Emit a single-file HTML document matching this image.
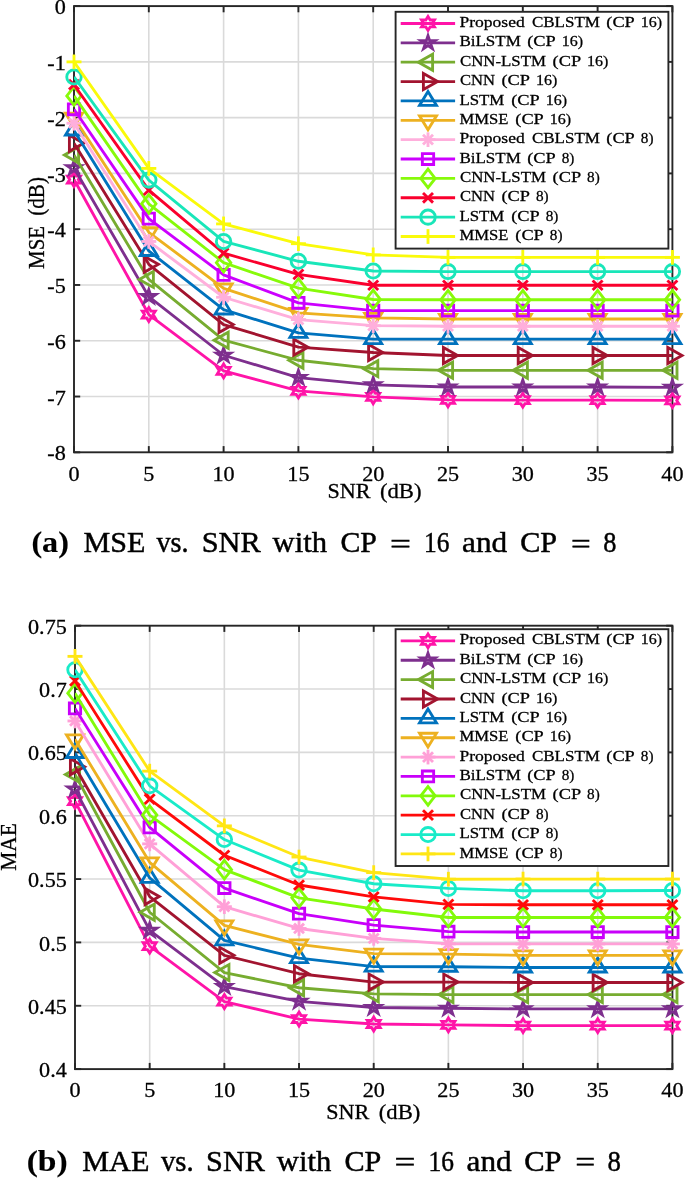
<!DOCTYPE html>
<html><head><meta charset="utf-8"><title>MSE and MAE vs. SNR</title>
<style>html,body{margin:0;padding:0;background:#fff}svg{display:block}text{font-family:"Liberation Serif",serif;fill:#000}</style></head>
<body>
<svg width="685" height="1179" viewBox="0 0 685 1179">
<rect width="685" height="1179" fill="#fff"/>
<clipPath id="clip1"><rect x="74.0" y="6.1" width="598.4" height="446.2"/></clipPath>
<line x1="148.80" y1="6.1" x2="148.80" y2="452.3" stroke="#dadada" stroke-width="1.6"/>
<line x1="223.60" y1="6.1" x2="223.60" y2="452.3" stroke="#dadada" stroke-width="1.6"/>
<line x1="298.40" y1="6.1" x2="298.40" y2="452.3" stroke="#dadada" stroke-width="1.6"/>
<line x1="373.20" y1="6.1" x2="373.20" y2="452.3" stroke="#dadada" stroke-width="1.6"/>
<line x1="448.00" y1="6.1" x2="448.00" y2="452.3" stroke="#dadada" stroke-width="1.6"/>
<line x1="522.80" y1="6.1" x2="522.80" y2="452.3" stroke="#dadada" stroke-width="1.6"/>
<line x1="597.60" y1="6.1" x2="597.60" y2="452.3" stroke="#dadada" stroke-width="1.6"/>
<line x1="74.0" y1="396.53" x2="672.4" y2="396.53" stroke="#dadada" stroke-width="1.6"/>
<line x1="74.0" y1="340.75" x2="672.4" y2="340.75" stroke="#dadada" stroke-width="1.6"/>
<line x1="74.0" y1="284.98" x2="672.4" y2="284.98" stroke="#dadada" stroke-width="1.6"/>
<line x1="74.0" y1="229.20" x2="672.4" y2="229.20" stroke="#dadada" stroke-width="1.6"/>
<line x1="74.0" y1="173.42" x2="672.4" y2="173.42" stroke="#dadada" stroke-width="1.6"/>
<line x1="74.0" y1="117.65" x2="672.4" y2="117.65" stroke="#dadada" stroke-width="1.6"/>
<line x1="74.0" y1="61.88" x2="672.4" y2="61.88" stroke="#dadada" stroke-width="1.6"/>
<line x1="74.00" y1="452.3" x2="74.00" y2="446.1" stroke="#262626" stroke-width="1.9"/>
<line x1="74.00" y1="6.1" x2="74.00" y2="12.3" stroke="#262626" stroke-width="1.9"/>
<line x1="148.80" y1="452.3" x2="148.80" y2="446.1" stroke="#262626" stroke-width="1.9"/>
<line x1="148.80" y1="6.1" x2="148.80" y2="12.3" stroke="#262626" stroke-width="1.9"/>
<line x1="223.60" y1="452.3" x2="223.60" y2="446.1" stroke="#262626" stroke-width="1.9"/>
<line x1="223.60" y1="6.1" x2="223.60" y2="12.3" stroke="#262626" stroke-width="1.9"/>
<line x1="298.40" y1="452.3" x2="298.40" y2="446.1" stroke="#262626" stroke-width="1.9"/>
<line x1="298.40" y1="6.1" x2="298.40" y2="12.3" stroke="#262626" stroke-width="1.9"/>
<line x1="373.20" y1="452.3" x2="373.20" y2="446.1" stroke="#262626" stroke-width="1.9"/>
<line x1="373.20" y1="6.1" x2="373.20" y2="12.3" stroke="#262626" stroke-width="1.9"/>
<line x1="448.00" y1="452.3" x2="448.00" y2="446.1" stroke="#262626" stroke-width="1.9"/>
<line x1="448.00" y1="6.1" x2="448.00" y2="12.3" stroke="#262626" stroke-width="1.9"/>
<line x1="522.80" y1="452.3" x2="522.80" y2="446.1" stroke="#262626" stroke-width="1.9"/>
<line x1="522.80" y1="6.1" x2="522.80" y2="12.3" stroke="#262626" stroke-width="1.9"/>
<line x1="597.60" y1="452.3" x2="597.60" y2="446.1" stroke="#262626" stroke-width="1.9"/>
<line x1="597.60" y1="6.1" x2="597.60" y2="12.3" stroke="#262626" stroke-width="1.9"/>
<line x1="672.40" y1="452.3" x2="672.40" y2="446.1" stroke="#262626" stroke-width="1.9"/>
<line x1="672.40" y1="6.1" x2="672.40" y2="12.3" stroke="#262626" stroke-width="1.9"/>
<line x1="74.0" y1="452.30" x2="80.2" y2="452.30" stroke="#262626" stroke-width="1.9"/>
<line x1="672.4" y1="452.30" x2="666.1999999999999" y2="452.30" stroke="#262626" stroke-width="1.9"/>
<line x1="74.0" y1="396.53" x2="80.2" y2="396.53" stroke="#262626" stroke-width="1.9"/>
<line x1="672.4" y1="396.53" x2="666.1999999999999" y2="396.53" stroke="#262626" stroke-width="1.9"/>
<line x1="74.0" y1="340.75" x2="80.2" y2="340.75" stroke="#262626" stroke-width="1.9"/>
<line x1="672.4" y1="340.75" x2="666.1999999999999" y2="340.75" stroke="#262626" stroke-width="1.9"/>
<line x1="74.0" y1="284.98" x2="80.2" y2="284.98" stroke="#262626" stroke-width="1.9"/>
<line x1="672.4" y1="284.98" x2="666.1999999999999" y2="284.98" stroke="#262626" stroke-width="1.9"/>
<line x1="74.0" y1="229.20" x2="80.2" y2="229.20" stroke="#262626" stroke-width="1.9"/>
<line x1="672.4" y1="229.20" x2="666.1999999999999" y2="229.20" stroke="#262626" stroke-width="1.9"/>
<line x1="74.0" y1="173.42" x2="80.2" y2="173.42" stroke="#262626" stroke-width="1.9"/>
<line x1="672.4" y1="173.42" x2="666.1999999999999" y2="173.42" stroke="#262626" stroke-width="1.9"/>
<line x1="74.0" y1="117.65" x2="80.2" y2="117.65" stroke="#262626" stroke-width="1.9"/>
<line x1="672.4" y1="117.65" x2="666.1999999999999" y2="117.65" stroke="#262626" stroke-width="1.9"/>
<line x1="74.0" y1="61.88" x2="80.2" y2="61.88" stroke="#262626" stroke-width="1.9"/>
<line x1="672.4" y1="61.88" x2="666.1999999999999" y2="61.88" stroke="#262626" stroke-width="1.9"/>
<line x1="74.0" y1="6.10" x2="80.2" y2="6.10" stroke="#262626" stroke-width="1.9"/>
<line x1="672.4" y1="6.10" x2="666.1999999999999" y2="6.10" stroke="#262626" stroke-width="1.9"/>
<rect x="74.0" y="6.1" width="598.4" height="446.2" fill="none" stroke="#262626" stroke-width="1.9"/>
<text transform="translate(65.80,460.40) scale(1.04,1)" font-size="21.3" text-anchor="end" stroke="#000" stroke-width="0.3">-8</text>
<text transform="translate(65.80,404.63) scale(1.04,1)" font-size="21.3" text-anchor="end" stroke="#000" stroke-width="0.3">-7</text>
<text transform="translate(65.80,348.85) scale(1.04,1)" font-size="21.3" text-anchor="end" stroke="#000" stroke-width="0.3">-6</text>
<text transform="translate(65.80,293.08) scale(1.04,1)" font-size="21.3" text-anchor="end" stroke="#000" stroke-width="0.3">-5</text>
<text transform="translate(65.80,237.30) scale(1.04,1)" font-size="21.3" text-anchor="end" stroke="#000" stroke-width="0.3">-4</text>
<text transform="translate(65.80,181.52) scale(1.04,1)" font-size="21.3" text-anchor="end" stroke="#000" stroke-width="0.3">-3</text>
<text transform="translate(65.80,125.75) scale(1.04,1)" font-size="21.3" text-anchor="end" stroke="#000" stroke-width="0.3">-2</text>
<text transform="translate(65.80,69.97) scale(1.04,1)" font-size="21.3" text-anchor="end" stroke="#000" stroke-width="0.3">-1</text>
<text transform="translate(65.80,14.20) scale(1.04,1)" font-size="21.3" text-anchor="end" stroke="#000" stroke-width="0.3">0</text>
<text transform="translate(74.00,480.50) scale(1.04,1)" font-size="21.3" text-anchor="middle" stroke="#000" stroke-width="0.3">0</text>
<text transform="translate(148.80,480.50) scale(1.04,1)" font-size="21.3" text-anchor="middle" stroke="#000" stroke-width="0.3">5</text>
<text transform="translate(223.60,480.50) scale(1.04,1)" font-size="21.3" text-anchor="middle" stroke="#000" stroke-width="0.3">10</text>
<text transform="translate(298.40,480.50) scale(1.04,1)" font-size="21.3" text-anchor="middle" stroke="#000" stroke-width="0.3">15</text>
<text transform="translate(373.20,480.50) scale(1.04,1)" font-size="21.3" text-anchor="middle" stroke="#000" stroke-width="0.3">20</text>
<text transform="translate(448.00,480.50) scale(1.04,1)" font-size="21.3" text-anchor="middle" stroke="#000" stroke-width="0.3">25</text>
<text transform="translate(522.80,480.50) scale(1.04,1)" font-size="21.3" text-anchor="middle" stroke="#000" stroke-width="0.3">30</text>
<text transform="translate(597.60,480.50) scale(1.04,1)" font-size="21.3" text-anchor="middle" stroke="#000" stroke-width="0.3">35</text>
<text transform="translate(672.40,480.50) scale(1.04,1)" font-size="21.3" text-anchor="middle" stroke="#000" stroke-width="0.3">40</text>
<polyline points="74.00,179.56 148.80,314.54 223.60,370.87 298.40,390.95 373.20,396.80 448.00,399.87 522.80,400.15 597.60,400.15 672.40,400.43" fill="none" stroke="#ff14a8" stroke-width="2.85" stroke-linejoin="round" clip-path="url(#clip1)"/>
<polygon points="74.00,172.61 76.17,176.09 80.50,176.09 78.33,179.56 80.50,183.04 76.17,183.04 74.00,186.51 71.83,183.04 67.50,183.04 69.67,179.56 67.50,176.09 71.83,176.09" stroke="#ff14a8" stroke-width="2.85" fill="none" stroke-linejoin="miter" stroke-miterlimit="4"/>
<polygon points="148.80,307.59 150.97,311.06 155.30,311.06 153.13,314.54 155.30,318.01 150.97,318.01 148.80,321.49 146.63,318.01 142.30,318.01 144.47,314.54 142.30,311.06 146.63,311.06" stroke="#ff14a8" stroke-width="2.85" fill="none" stroke-linejoin="miter" stroke-miterlimit="4"/>
<polygon points="223.60,363.92 225.77,367.39 230.10,367.39 227.93,370.87 230.10,374.34 225.77,374.34 223.60,377.82 221.43,374.34 217.10,374.34 219.27,370.87 217.10,367.39 221.43,367.39" stroke="#ff14a8" stroke-width="2.85" fill="none" stroke-linejoin="miter" stroke-miterlimit="4"/>
<polygon points="298.40,384.00 300.57,387.47 304.90,387.47 302.73,390.95 304.90,394.42 300.57,394.42 298.40,397.90 296.23,394.42 291.90,394.42 294.07,390.95 291.90,387.47 296.23,387.47" stroke="#ff14a8" stroke-width="2.85" fill="none" stroke-linejoin="miter" stroke-miterlimit="4"/>
<polygon points="373.20,389.85 375.37,393.33 379.70,393.33 377.53,396.80 379.70,400.28 375.37,400.28 373.20,403.75 371.03,400.28 366.70,400.28 368.87,396.80 366.70,393.33 371.03,393.33" stroke="#ff14a8" stroke-width="2.85" fill="none" stroke-linejoin="miter" stroke-miterlimit="4"/>
<polygon points="448.00,392.92 450.17,396.40 454.50,396.40 452.33,399.87 454.50,403.35 450.17,403.35 448.00,406.82 445.83,403.35 441.50,403.35 443.67,399.87 441.50,396.40 445.83,396.40" stroke="#ff14a8" stroke-width="2.85" fill="none" stroke-linejoin="miter" stroke-miterlimit="4"/>
<polygon points="522.80,393.20 524.97,396.68 529.30,396.68 527.13,400.15 529.30,403.63 524.97,403.63 522.80,407.10 520.63,403.63 516.30,403.63 518.47,400.15 516.30,396.68 520.63,396.68" stroke="#ff14a8" stroke-width="2.85" fill="none" stroke-linejoin="miter" stroke-miterlimit="4"/>
<polygon points="597.60,393.20 599.77,396.68 604.10,396.68 601.93,400.15 604.10,403.63 599.77,403.63 597.60,407.10 595.43,403.63 591.10,403.63 593.27,400.15 591.10,396.68 595.43,396.68" stroke="#ff14a8" stroke-width="2.85" fill="none" stroke-linejoin="miter" stroke-miterlimit="4"/>
<polygon points="672.40,393.48 674.57,396.95 678.90,396.95 676.73,400.43 678.90,403.90 674.57,403.90 672.40,407.38 670.23,403.90 665.90,403.90 668.07,400.43 665.90,396.95 670.23,396.95" stroke="#ff14a8" stroke-width="2.85" fill="none" stroke-linejoin="miter" stroke-miterlimit="4"/>
<polyline points="74.00,167.85 148.80,296.69 223.60,355.25 298.40,377.56 373.20,384.81 448.00,387.04 522.80,387.04 597.60,387.04 672.40,387.32" fill="none" stroke="#7e2f8e" stroke-width="2.85" stroke-linejoin="round" clip-path="url(#clip1)"/>
<polygon points="74.00,160.75 75.67,165.65 81.09,165.65 76.71,168.69 78.38,173.59 74.00,170.56 69.62,173.59 71.29,168.69 66.91,165.65 72.33,165.65" stroke="#7e2f8e" stroke-width="2.85" fill="none" stroke-linejoin="miter" stroke-miterlimit="4"/>
<polygon points="148.80,289.59 150.47,294.49 155.89,294.49 151.51,297.53 153.18,302.43 148.80,299.40 144.42,302.43 146.09,297.53 141.71,294.49 147.13,294.49" stroke="#7e2f8e" stroke-width="2.85" fill="none" stroke-linejoin="miter" stroke-miterlimit="4"/>
<polygon points="223.60,348.15 225.27,353.06 230.69,353.06 226.31,356.09 227.98,361.00 223.60,357.96 219.22,361.00 220.89,356.09 216.51,353.06 221.93,353.06" stroke="#7e2f8e" stroke-width="2.85" fill="none" stroke-linejoin="miter" stroke-miterlimit="4"/>
<polygon points="298.40,370.46 300.07,375.37 305.49,375.37 301.11,378.40 302.78,383.31 298.40,380.27 294.02,383.31 295.69,378.40 291.31,375.37 296.73,375.37" stroke="#7e2f8e" stroke-width="2.85" fill="none" stroke-linejoin="miter" stroke-miterlimit="4"/>
<polygon points="373.20,377.71 374.87,382.62 380.29,382.62 375.91,385.65 377.58,390.56 373.20,387.52 368.82,390.56 370.49,385.65 366.11,382.62 371.53,382.62" stroke="#7e2f8e" stroke-width="2.85" fill="none" stroke-linejoin="miter" stroke-miterlimit="4"/>
<polygon points="448.00,379.94 449.67,384.85 455.09,384.85 450.71,387.88 452.38,392.79 448.00,389.76 443.62,392.79 445.29,387.88 440.91,384.85 446.33,384.85" stroke="#7e2f8e" stroke-width="2.85" fill="none" stroke-linejoin="miter" stroke-miterlimit="4"/>
<polygon points="522.80,379.94 524.47,384.85 529.89,384.85 525.51,387.88 527.18,392.79 522.80,389.76 518.42,392.79 520.09,387.88 515.71,384.85 521.13,384.85" stroke="#7e2f8e" stroke-width="2.85" fill="none" stroke-linejoin="miter" stroke-miterlimit="4"/>
<polygon points="597.60,379.94 599.27,384.85 604.69,384.85 600.31,387.88 601.98,392.79 597.60,389.76 593.22,392.79 594.89,387.88 590.51,384.85 595.93,384.85" stroke="#7e2f8e" stroke-width="2.85" fill="none" stroke-linejoin="miter" stroke-miterlimit="4"/>
<polygon points="672.40,380.22 674.07,385.13 679.49,385.13 675.11,388.16 676.78,393.07 672.40,390.03 668.02,393.07 669.69,388.16 665.31,385.13 670.73,385.13" stroke="#7e2f8e" stroke-width="2.85" fill="none" stroke-linejoin="miter" stroke-miterlimit="4"/>
<polyline points="74.00,155.02 148.80,279.40 223.60,340.19 298.40,360.27 373.20,368.64 448.00,370.31 522.80,370.31 597.60,370.31 672.40,370.31" fill="none" stroke="#77ac30" stroke-width="2.85" stroke-linejoin="round" clip-path="url(#clip1)"/>
<polygon points="64.40,155.02 78.60,163.02 78.60,147.02" stroke="#77ac30" stroke-width="2.85" fill="none" stroke-linejoin="miter" stroke-miterlimit="4"/>
<polygon points="139.20,279.40 153.40,287.40 153.40,271.40" stroke="#77ac30" stroke-width="2.85" fill="none" stroke-linejoin="miter" stroke-miterlimit="4"/>
<polygon points="214.00,340.19 228.20,348.19 228.20,332.19" stroke="#77ac30" stroke-width="2.85" fill="none" stroke-linejoin="miter" stroke-miterlimit="4"/>
<polygon points="288.80,360.27 303.00,368.27 303.00,352.27" stroke="#77ac30" stroke-width="2.85" fill="none" stroke-linejoin="miter" stroke-miterlimit="4"/>
<polygon points="363.60,368.64 377.80,376.64 377.80,360.64" stroke="#77ac30" stroke-width="2.85" fill="none" stroke-linejoin="miter" stroke-miterlimit="4"/>
<polygon points="438.40,370.31 452.60,378.31 452.60,362.31" stroke="#77ac30" stroke-width="2.85" fill="none" stroke-linejoin="miter" stroke-miterlimit="4"/>
<polygon points="513.20,370.31 527.40,378.31 527.40,362.31" stroke="#77ac30" stroke-width="2.85" fill="none" stroke-linejoin="miter" stroke-miterlimit="4"/>
<polygon points="588.00,370.31 602.20,378.31 602.20,362.31" stroke="#77ac30" stroke-width="2.85" fill="none" stroke-linejoin="miter" stroke-miterlimit="4"/>
<polygon points="662.80,370.31 677.00,378.31 677.00,362.31" stroke="#77ac30" stroke-width="2.85" fill="none" stroke-linejoin="miter" stroke-miterlimit="4"/>
<polyline points="74.00,143.31 148.80,264.34 223.60,324.58 298.40,347.16 373.20,352.46 448.00,355.53 522.80,355.53 597.60,355.53 672.40,355.53" fill="none" stroke="#a2142f" stroke-width="2.85" stroke-linejoin="round" clip-path="url(#clip1)"/>
<polygon points="83.60,143.31 69.40,151.31 69.40,135.31" stroke="#a2142f" stroke-width="2.85" fill="none" stroke-linejoin="miter" stroke-miterlimit="4"/>
<polygon points="158.40,264.34 144.20,272.34 144.20,256.34" stroke="#a2142f" stroke-width="2.85" fill="none" stroke-linejoin="miter" stroke-miterlimit="4"/>
<polygon points="233.20,324.58 219.00,332.58 219.00,316.58" stroke="#a2142f" stroke-width="2.85" fill="none" stroke-linejoin="miter" stroke-miterlimit="4"/>
<polygon points="308.00,347.16 293.80,355.16 293.80,339.16" stroke="#a2142f" stroke-width="2.85" fill="none" stroke-linejoin="miter" stroke-miterlimit="4"/>
<polygon points="382.80,352.46 368.60,360.46 368.60,344.46" stroke="#a2142f" stroke-width="2.85" fill="none" stroke-linejoin="miter" stroke-miterlimit="4"/>
<polygon points="457.60,355.53 443.40,363.53 443.40,347.53" stroke="#a2142f" stroke-width="2.85" fill="none" stroke-linejoin="miter" stroke-miterlimit="4"/>
<polygon points="532.40,355.53 518.20,363.53 518.20,347.53" stroke="#a2142f" stroke-width="2.85" fill="none" stroke-linejoin="miter" stroke-miterlimit="4"/>
<polygon points="607.20,355.53 593.00,363.53 593.00,347.53" stroke="#a2142f" stroke-width="2.85" fill="none" stroke-linejoin="miter" stroke-miterlimit="4"/>
<polygon points="682.00,355.53 667.80,363.53 667.80,347.53" stroke="#a2142f" stroke-width="2.85" fill="none" stroke-linejoin="miter" stroke-miterlimit="4"/>
<polyline points="74.00,130.48 148.80,250.95 223.60,309.52 298.40,332.94 373.20,339.08 448.00,339.08 522.80,339.08 597.60,339.08 672.40,339.08" fill="none" stroke="#0072bd" stroke-width="2.85" stroke-linejoin="round" clip-path="url(#clip1)"/>
<polygon points="74.00,121.08 82.50,134.98 65.50,134.98" stroke="#0072bd" stroke-width="2.85" fill="none" stroke-linejoin="miter" stroke-miterlimit="4"/>
<polygon points="148.80,241.55 157.30,255.45 140.30,255.45" stroke="#0072bd" stroke-width="2.85" fill="none" stroke-linejoin="miter" stroke-miterlimit="4"/>
<polygon points="223.60,300.12 232.10,314.02 215.10,314.02" stroke="#0072bd" stroke-width="2.85" fill="none" stroke-linejoin="miter" stroke-miterlimit="4"/>
<polygon points="298.40,323.54 306.90,337.44 289.90,337.44" stroke="#0072bd" stroke-width="2.85" fill="none" stroke-linejoin="miter" stroke-miterlimit="4"/>
<polygon points="373.20,329.68 381.70,343.58 364.70,343.58" stroke="#0072bd" stroke-width="2.85" fill="none" stroke-linejoin="miter" stroke-miterlimit="4"/>
<polygon points="448.00,329.68 456.50,343.58 439.50,343.58" stroke="#0072bd" stroke-width="2.85" fill="none" stroke-linejoin="miter" stroke-miterlimit="4"/>
<polygon points="522.80,329.68 531.30,343.58 514.30,343.58" stroke="#0072bd" stroke-width="2.85" fill="none" stroke-linejoin="miter" stroke-miterlimit="4"/>
<polygon points="597.60,329.68 606.10,343.58 589.10,343.58" stroke="#0072bd" stroke-width="2.85" fill="none" stroke-linejoin="miter" stroke-miterlimit="4"/>
<polygon points="672.40,329.68 680.90,343.58 663.90,343.58" stroke="#0072bd" stroke-width="2.85" fill="none" stroke-linejoin="miter" stroke-miterlimit="4"/>
<polyline points="74.00,117.65 148.80,232.27 223.60,288.32 298.40,312.86 373.20,317.88 448.00,319.00 522.80,319.00 597.60,319.00 672.40,319.00" fill="none" stroke="#edb120" stroke-width="2.85" stroke-linejoin="round" clip-path="url(#clip1)"/>
<polygon points="74.00,127.05 82.50,113.15 65.50,113.15" stroke="#edb120" stroke-width="2.85" fill="none" stroke-linejoin="miter" stroke-miterlimit="4"/>
<polygon points="148.80,241.67 157.30,227.77 140.30,227.77" stroke="#edb120" stroke-width="2.85" fill="none" stroke-linejoin="miter" stroke-miterlimit="4"/>
<polygon points="223.60,297.72 232.10,283.82 215.10,283.82" stroke="#edb120" stroke-width="2.85" fill="none" stroke-linejoin="miter" stroke-miterlimit="4"/>
<polygon points="298.40,322.26 306.90,308.36 289.90,308.36" stroke="#edb120" stroke-width="2.85" fill="none" stroke-linejoin="miter" stroke-miterlimit="4"/>
<polygon points="373.20,327.28 381.70,313.38 364.70,313.38" stroke="#edb120" stroke-width="2.85" fill="none" stroke-linejoin="miter" stroke-miterlimit="4"/>
<polygon points="448.00,328.40 456.50,314.50 439.50,314.50" stroke="#edb120" stroke-width="2.85" fill="none" stroke-linejoin="miter" stroke-miterlimit="4"/>
<polygon points="522.80,328.40 531.30,314.50 514.30,314.50" stroke="#edb120" stroke-width="2.85" fill="none" stroke-linejoin="miter" stroke-miterlimit="4"/>
<polygon points="597.60,328.40 606.10,314.50 589.10,314.50" stroke="#edb120" stroke-width="2.85" fill="none" stroke-linejoin="miter" stroke-miterlimit="4"/>
<polygon points="672.40,328.40 680.90,314.50 663.90,314.50" stroke="#edb120" stroke-width="2.85" fill="none" stroke-linejoin="miter" stroke-miterlimit="4"/>
<polyline points="74.00,123.23 148.80,241.47 223.60,297.25 298.40,319.56 373.20,325.69 448.00,326.25 522.80,326.25 597.60,326.25 672.40,326.25" fill="none" stroke="#ffafdc" stroke-width="2.85" stroke-linejoin="round" clip-path="url(#clip1)"/>
<line x1="66.50" y1="123.23" x2="81.50" y2="123.23" stroke="#ffafdc" stroke-width="2.85" fill="none" stroke-linejoin="miter" stroke-miterlimit="4"/><line x1="74.00" y1="115.88" x2="74.00" y2="130.58" stroke="#ffafdc" stroke-width="2.85" fill="none" stroke-linejoin="miter" stroke-miterlimit="4"/><line x1="69.00" y1="118.38" x2="79.00" y2="128.08" stroke="#ffafdc" stroke-width="2.85" fill="none" stroke-linejoin="miter" stroke-miterlimit="4"/><line x1="69.00" y1="128.08" x2="79.00" y2="118.38" stroke="#ffafdc" stroke-width="2.85" fill="none" stroke-linejoin="miter" stroke-miterlimit="4"/>
<line x1="141.30" y1="241.47" x2="156.30" y2="241.47" stroke="#ffafdc" stroke-width="2.85" fill="none" stroke-linejoin="miter" stroke-miterlimit="4"/><line x1="148.80" y1="234.12" x2="148.80" y2="248.82" stroke="#ffafdc" stroke-width="2.85" fill="none" stroke-linejoin="miter" stroke-miterlimit="4"/><line x1="143.80" y1="236.62" x2="153.80" y2="246.32" stroke="#ffafdc" stroke-width="2.85" fill="none" stroke-linejoin="miter" stroke-miterlimit="4"/><line x1="143.80" y1="246.32" x2="153.80" y2="236.62" stroke="#ffafdc" stroke-width="2.85" fill="none" stroke-linejoin="miter" stroke-miterlimit="4"/>
<line x1="216.10" y1="297.25" x2="231.10" y2="297.25" stroke="#ffafdc" stroke-width="2.85" fill="none" stroke-linejoin="miter" stroke-miterlimit="4"/><line x1="223.60" y1="289.90" x2="223.60" y2="304.60" stroke="#ffafdc" stroke-width="2.85" fill="none" stroke-linejoin="miter" stroke-miterlimit="4"/><line x1="218.60" y1="292.40" x2="228.60" y2="302.10" stroke="#ffafdc" stroke-width="2.85" fill="none" stroke-linejoin="miter" stroke-miterlimit="4"/><line x1="218.60" y1="302.10" x2="228.60" y2="292.40" stroke="#ffafdc" stroke-width="2.85" fill="none" stroke-linejoin="miter" stroke-miterlimit="4"/>
<line x1="290.90" y1="319.56" x2="305.90" y2="319.56" stroke="#ffafdc" stroke-width="2.85" fill="none" stroke-linejoin="miter" stroke-miterlimit="4"/><line x1="298.40" y1="312.21" x2="298.40" y2="326.91" stroke="#ffafdc" stroke-width="2.85" fill="none" stroke-linejoin="miter" stroke-miterlimit="4"/><line x1="293.40" y1="314.71" x2="303.40" y2="324.41" stroke="#ffafdc" stroke-width="2.85" fill="none" stroke-linejoin="miter" stroke-miterlimit="4"/><line x1="293.40" y1="324.41" x2="303.40" y2="314.71" stroke="#ffafdc" stroke-width="2.85" fill="none" stroke-linejoin="miter" stroke-miterlimit="4"/>
<line x1="365.70" y1="325.69" x2="380.70" y2="325.69" stroke="#ffafdc" stroke-width="2.85" fill="none" stroke-linejoin="miter" stroke-miterlimit="4"/><line x1="373.20" y1="318.34" x2="373.20" y2="333.04" stroke="#ffafdc" stroke-width="2.85" fill="none" stroke-linejoin="miter" stroke-miterlimit="4"/><line x1="368.20" y1="320.84" x2="378.20" y2="330.54" stroke="#ffafdc" stroke-width="2.85" fill="none" stroke-linejoin="miter" stroke-miterlimit="4"/><line x1="368.20" y1="330.54" x2="378.20" y2="320.84" stroke="#ffafdc" stroke-width="2.85" fill="none" stroke-linejoin="miter" stroke-miterlimit="4"/>
<line x1="440.50" y1="326.25" x2="455.50" y2="326.25" stroke="#ffafdc" stroke-width="2.85" fill="none" stroke-linejoin="miter" stroke-miterlimit="4"/><line x1="448.00" y1="318.90" x2="448.00" y2="333.60" stroke="#ffafdc" stroke-width="2.85" fill="none" stroke-linejoin="miter" stroke-miterlimit="4"/><line x1="443.00" y1="321.40" x2="453.00" y2="331.10" stroke="#ffafdc" stroke-width="2.85" fill="none" stroke-linejoin="miter" stroke-miterlimit="4"/><line x1="443.00" y1="331.10" x2="453.00" y2="321.40" stroke="#ffafdc" stroke-width="2.85" fill="none" stroke-linejoin="miter" stroke-miterlimit="4"/>
<line x1="515.30" y1="326.25" x2="530.30" y2="326.25" stroke="#ffafdc" stroke-width="2.85" fill="none" stroke-linejoin="miter" stroke-miterlimit="4"/><line x1="522.80" y1="318.90" x2="522.80" y2="333.60" stroke="#ffafdc" stroke-width="2.85" fill="none" stroke-linejoin="miter" stroke-miterlimit="4"/><line x1="517.80" y1="321.40" x2="527.80" y2="331.10" stroke="#ffafdc" stroke-width="2.85" fill="none" stroke-linejoin="miter" stroke-miterlimit="4"/><line x1="517.80" y1="331.10" x2="527.80" y2="321.40" stroke="#ffafdc" stroke-width="2.85" fill="none" stroke-linejoin="miter" stroke-miterlimit="4"/>
<line x1="590.10" y1="326.25" x2="605.10" y2="326.25" stroke="#ffafdc" stroke-width="2.85" fill="none" stroke-linejoin="miter" stroke-miterlimit="4"/><line x1="597.60" y1="318.90" x2="597.60" y2="333.60" stroke="#ffafdc" stroke-width="2.85" fill="none" stroke-linejoin="miter" stroke-miterlimit="4"/><line x1="592.60" y1="321.40" x2="602.60" y2="331.10" stroke="#ffafdc" stroke-width="2.85" fill="none" stroke-linejoin="miter" stroke-miterlimit="4"/><line x1="592.60" y1="331.10" x2="602.60" y2="321.40" stroke="#ffafdc" stroke-width="2.85" fill="none" stroke-linejoin="miter" stroke-miterlimit="4"/>
<line x1="664.90" y1="326.25" x2="679.90" y2="326.25" stroke="#ffafdc" stroke-width="2.85" fill="none" stroke-linejoin="miter" stroke-miterlimit="4"/><line x1="672.40" y1="318.90" x2="672.40" y2="333.60" stroke="#ffafdc" stroke-width="2.85" fill="none" stroke-linejoin="miter" stroke-miterlimit="4"/><line x1="667.40" y1="321.40" x2="677.40" y2="331.10" stroke="#ffafdc" stroke-width="2.85" fill="none" stroke-linejoin="miter" stroke-miterlimit="4"/><line x1="667.40" y1="331.10" x2="677.40" y2="321.40" stroke="#ffafdc" stroke-width="2.85" fill="none" stroke-linejoin="miter" stroke-miterlimit="4"/>
<polyline points="74.00,109.28 148.80,218.60 223.60,274.94 298.40,302.82 373.20,310.63 448.00,310.63 522.80,310.63 597.60,310.63 672.40,310.63" fill="none" stroke="#cc00ff" stroke-width="2.85" stroke-linejoin="round" clip-path="url(#clip1)"/>
<polygon points="68.35,103.83 79.65,103.83 79.65,114.73 68.35,114.73" stroke="#cc00ff" stroke-width="2.85" fill="none" stroke-linejoin="miter" stroke-miterlimit="4"/>
<polygon points="143.15,213.15 154.45,213.15 154.45,224.05 143.15,224.05" stroke="#cc00ff" stroke-width="2.85" fill="none" stroke-linejoin="miter" stroke-miterlimit="4"/>
<polygon points="217.95,269.49 229.25,269.49 229.25,280.39 217.95,280.39" stroke="#cc00ff" stroke-width="2.85" fill="none" stroke-linejoin="miter" stroke-miterlimit="4"/>
<polygon points="292.75,297.37 304.05,297.37 304.05,308.27 292.75,308.27" stroke="#cc00ff" stroke-width="2.85" fill="none" stroke-linejoin="miter" stroke-miterlimit="4"/>
<polygon points="367.55,305.18 378.85,305.18 378.85,316.08 367.55,316.08" stroke="#cc00ff" stroke-width="2.85" fill="none" stroke-linejoin="miter" stroke-miterlimit="4"/>
<polygon points="442.35,305.18 453.65,305.18 453.65,316.08 442.35,316.08" stroke="#cc00ff" stroke-width="2.85" fill="none" stroke-linejoin="miter" stroke-miterlimit="4"/>
<polygon points="517.15,305.18 528.45,305.18 528.45,316.08 517.15,316.08" stroke="#cc00ff" stroke-width="2.85" fill="none" stroke-linejoin="miter" stroke-miterlimit="4"/>
<polygon points="591.95,305.18 603.25,305.18 603.25,316.08 591.95,316.08" stroke="#cc00ff" stroke-width="2.85" fill="none" stroke-linejoin="miter" stroke-miterlimit="4"/>
<polygon points="666.75,305.18 678.05,305.18 678.05,316.08 666.75,316.08" stroke="#cc00ff" stroke-width="2.85" fill="none" stroke-linejoin="miter" stroke-miterlimit="4"/>
<polyline points="74.00,95.90 148.80,203.82 223.60,262.67 298.40,288.04 373.20,299.48 448.00,299.76 522.80,299.76 597.60,299.76 672.40,299.76" fill="none" stroke="#87fa0a" stroke-width="2.85" stroke-linejoin="round" clip-path="url(#clip1)"/>
<polygon points="74.00,86.60 81.20,95.90 74.00,105.20 66.80,95.90" stroke="#87fa0a" stroke-width="2.85" fill="none" stroke-linejoin="miter" stroke-miterlimit="4"/>
<polygon points="148.80,194.52 156.00,203.82 148.80,213.12 141.60,203.82" stroke="#87fa0a" stroke-width="2.85" fill="none" stroke-linejoin="miter" stroke-miterlimit="4"/>
<polygon points="223.60,253.37 230.80,262.67 223.60,271.97 216.40,262.67" stroke="#87fa0a" stroke-width="2.85" fill="none" stroke-linejoin="miter" stroke-miterlimit="4"/>
<polygon points="298.40,278.74 305.60,288.04 298.40,297.34 291.20,288.04" stroke="#87fa0a" stroke-width="2.85" fill="none" stroke-linejoin="miter" stroke-miterlimit="4"/>
<polygon points="373.20,290.18 380.40,299.48 373.20,308.78 366.00,299.48" stroke="#87fa0a" stroke-width="2.85" fill="none" stroke-linejoin="miter" stroke-miterlimit="4"/>
<polygon points="448.00,290.46 455.20,299.76 448.00,309.06 440.80,299.76" stroke="#87fa0a" stroke-width="2.85" fill="none" stroke-linejoin="miter" stroke-miterlimit="4"/>
<polygon points="522.80,290.46 530.00,299.76 522.80,309.06 515.60,299.76" stroke="#87fa0a" stroke-width="2.85" fill="none" stroke-linejoin="miter" stroke-miterlimit="4"/>
<polygon points="597.60,290.46 604.80,299.76 597.60,309.06 590.40,299.76" stroke="#87fa0a" stroke-width="2.85" fill="none" stroke-linejoin="miter" stroke-miterlimit="4"/>
<polygon points="672.40,290.46 679.60,299.76 672.40,309.06 665.20,299.76" stroke="#87fa0a" stroke-width="2.85" fill="none" stroke-linejoin="miter" stroke-miterlimit="4"/>
<polyline points="74.00,84.74 148.80,190.16 223.60,253.18 298.40,274.38 373.20,285.25 448.00,285.25 522.80,285.25 597.60,285.25 672.40,285.25" fill="none" stroke="#fa002d" stroke-width="2.85" stroke-linejoin="round" clip-path="url(#clip1)"/>
<line x1="69.00" y1="79.89" x2="79.00" y2="89.59" stroke="#fa002d" stroke-width="2.85" fill="none" stroke-linejoin="miter" stroke-miterlimit="4"/><line x1="69.00" y1="89.59" x2="79.00" y2="79.89" stroke="#fa002d" stroke-width="2.85" fill="none" stroke-linejoin="miter" stroke-miterlimit="4"/>
<line x1="143.80" y1="185.31" x2="153.80" y2="195.01" stroke="#fa002d" stroke-width="2.85" fill="none" stroke-linejoin="miter" stroke-miterlimit="4"/><line x1="143.80" y1="195.01" x2="153.80" y2="185.31" stroke="#fa002d" stroke-width="2.85" fill="none" stroke-linejoin="miter" stroke-miterlimit="4"/>
<line x1="218.60" y1="248.33" x2="228.60" y2="258.03" stroke="#fa002d" stroke-width="2.85" fill="none" stroke-linejoin="miter" stroke-miterlimit="4"/><line x1="218.60" y1="258.03" x2="228.60" y2="248.33" stroke="#fa002d" stroke-width="2.85" fill="none" stroke-linejoin="miter" stroke-miterlimit="4"/>
<line x1="293.40" y1="269.53" x2="303.40" y2="279.23" stroke="#fa002d" stroke-width="2.85" fill="none" stroke-linejoin="miter" stroke-miterlimit="4"/><line x1="293.40" y1="279.23" x2="303.40" y2="269.53" stroke="#fa002d" stroke-width="2.85" fill="none" stroke-linejoin="miter" stroke-miterlimit="4"/>
<line x1="368.20" y1="280.40" x2="378.20" y2="290.10" stroke="#fa002d" stroke-width="2.85" fill="none" stroke-linejoin="miter" stroke-miterlimit="4"/><line x1="368.20" y1="290.10" x2="378.20" y2="280.40" stroke="#fa002d" stroke-width="2.85" fill="none" stroke-linejoin="miter" stroke-miterlimit="4"/>
<line x1="443.00" y1="280.40" x2="453.00" y2="290.10" stroke="#fa002d" stroke-width="2.85" fill="none" stroke-linejoin="miter" stroke-miterlimit="4"/><line x1="443.00" y1="290.10" x2="453.00" y2="280.40" stroke="#fa002d" stroke-width="2.85" fill="none" stroke-linejoin="miter" stroke-miterlimit="4"/>
<line x1="517.80" y1="280.40" x2="527.80" y2="290.10" stroke="#fa002d" stroke-width="2.85" fill="none" stroke-linejoin="miter" stroke-miterlimit="4"/><line x1="517.80" y1="290.10" x2="527.80" y2="280.40" stroke="#fa002d" stroke-width="2.85" fill="none" stroke-linejoin="miter" stroke-miterlimit="4"/>
<line x1="592.60" y1="280.40" x2="602.60" y2="290.10" stroke="#fa002d" stroke-width="2.85" fill="none" stroke-linejoin="miter" stroke-miterlimit="4"/><line x1="592.60" y1="290.10" x2="602.60" y2="280.40" stroke="#fa002d" stroke-width="2.85" fill="none" stroke-linejoin="miter" stroke-miterlimit="4"/>
<line x1="667.40" y1="280.40" x2="677.40" y2="290.10" stroke="#fa002d" stroke-width="2.85" fill="none" stroke-linejoin="miter" stroke-miterlimit="4"/><line x1="667.40" y1="290.10" x2="677.40" y2="280.40" stroke="#fa002d" stroke-width="2.85" fill="none" stroke-linejoin="miter" stroke-miterlimit="4"/>
<polyline points="74.00,76.93 148.80,180.12 223.60,241.47 298.40,261.27 373.20,271.03 448.00,271.59 522.80,271.59 597.60,271.59 672.40,271.59" fill="none" stroke="#19e6b9" stroke-width="2.85" stroke-linejoin="round" clip-path="url(#clip1)"/>
<ellipse cx="74.00" cy="76.93" rx="7.25" ry="7.1" stroke="#19e6b9" stroke-width="2.85" fill="none" stroke-linejoin="miter" stroke-miterlimit="4"/>
<ellipse cx="148.80" cy="180.12" rx="7.25" ry="7.1" stroke="#19e6b9" stroke-width="2.85" fill="none" stroke-linejoin="miter" stroke-miterlimit="4"/>
<ellipse cx="223.60" cy="241.47" rx="7.25" ry="7.1" stroke="#19e6b9" stroke-width="2.85" fill="none" stroke-linejoin="miter" stroke-miterlimit="4"/>
<ellipse cx="298.40" cy="261.27" rx="7.25" ry="7.1" stroke="#19e6b9" stroke-width="2.85" fill="none" stroke-linejoin="miter" stroke-miterlimit="4"/>
<ellipse cx="373.20" cy="271.03" rx="7.25" ry="7.1" stroke="#19e6b9" stroke-width="2.85" fill="none" stroke-linejoin="miter" stroke-miterlimit="4"/>
<ellipse cx="448.00" cy="271.59" rx="7.25" ry="7.1" stroke="#19e6b9" stroke-width="2.85" fill="none" stroke-linejoin="miter" stroke-miterlimit="4"/>
<ellipse cx="522.80" cy="271.59" rx="7.25" ry="7.1" stroke="#19e6b9" stroke-width="2.85" fill="none" stroke-linejoin="miter" stroke-miterlimit="4"/>
<ellipse cx="597.60" cy="271.59" rx="7.25" ry="7.1" stroke="#19e6b9" stroke-width="2.85" fill="none" stroke-linejoin="miter" stroke-miterlimit="4"/>
<ellipse cx="672.40" cy="271.59" rx="7.25" ry="7.1" stroke="#19e6b9" stroke-width="2.85" fill="none" stroke-linejoin="miter" stroke-miterlimit="4"/>
<polyline points="74.00,61.88 148.80,168.41 223.60,223.90 298.40,243.70 373.20,254.86 448.00,257.37 522.80,257.37 597.60,257.37 672.40,257.37" fill="none" stroke="#fafa0a" stroke-width="2.85" stroke-linejoin="round" clip-path="url(#clip1)"/>
<line x1="66.50" y1="61.88" x2="81.50" y2="61.88" stroke="#fafa0a" stroke-width="2.85" fill="none" stroke-linejoin="miter" stroke-miterlimit="4"/><line x1="74.00" y1="54.52" x2="74.00" y2="69.22" stroke="#fafa0a" stroke-width="2.85" fill="none" stroke-linejoin="miter" stroke-miterlimit="4"/>
<line x1="141.30" y1="168.41" x2="156.30" y2="168.41" stroke="#fafa0a" stroke-width="2.85" fill="none" stroke-linejoin="miter" stroke-miterlimit="4"/><line x1="148.80" y1="161.06" x2="148.80" y2="175.76" stroke="#fafa0a" stroke-width="2.85" fill="none" stroke-linejoin="miter" stroke-miterlimit="4"/>
<line x1="216.10" y1="223.90" x2="231.10" y2="223.90" stroke="#fafa0a" stroke-width="2.85" fill="none" stroke-linejoin="miter" stroke-miterlimit="4"/><line x1="223.60" y1="216.55" x2="223.60" y2="231.25" stroke="#fafa0a" stroke-width="2.85" fill="none" stroke-linejoin="miter" stroke-miterlimit="4"/>
<line x1="290.90" y1="243.70" x2="305.90" y2="243.70" stroke="#fafa0a" stroke-width="2.85" fill="none" stroke-linejoin="miter" stroke-miterlimit="4"/><line x1="298.40" y1="236.35" x2="298.40" y2="251.05" stroke="#fafa0a" stroke-width="2.85" fill="none" stroke-linejoin="miter" stroke-miterlimit="4"/>
<line x1="365.70" y1="254.86" x2="380.70" y2="254.86" stroke="#fafa0a" stroke-width="2.85" fill="none" stroke-linejoin="miter" stroke-miterlimit="4"/><line x1="373.20" y1="247.51" x2="373.20" y2="262.21" stroke="#fafa0a" stroke-width="2.85" fill="none" stroke-linejoin="miter" stroke-miterlimit="4"/>
<line x1="440.50" y1="257.37" x2="455.50" y2="257.37" stroke="#fafa0a" stroke-width="2.85" fill="none" stroke-linejoin="miter" stroke-miterlimit="4"/><line x1="448.00" y1="250.02" x2="448.00" y2="264.72" stroke="#fafa0a" stroke-width="2.85" fill="none" stroke-linejoin="miter" stroke-miterlimit="4"/>
<line x1="515.30" y1="257.37" x2="530.30" y2="257.37" stroke="#fafa0a" stroke-width="2.85" fill="none" stroke-linejoin="miter" stroke-miterlimit="4"/><line x1="522.80" y1="250.02" x2="522.80" y2="264.72" stroke="#fafa0a" stroke-width="2.85" fill="none" stroke-linejoin="miter" stroke-miterlimit="4"/>
<line x1="590.10" y1="257.37" x2="605.10" y2="257.37" stroke="#fafa0a" stroke-width="2.85" fill="none" stroke-linejoin="miter" stroke-miterlimit="4"/><line x1="597.60" y1="250.02" x2="597.60" y2="264.72" stroke="#fafa0a" stroke-width="2.85" fill="none" stroke-linejoin="miter" stroke-miterlimit="4"/>
<line x1="664.90" y1="257.37" x2="679.90" y2="257.37" stroke="#fafa0a" stroke-width="2.85" fill="none" stroke-linejoin="miter" stroke-miterlimit="4"/><line x1="672.40" y1="250.02" x2="672.40" y2="264.72" stroke="#fafa0a" stroke-width="2.85" fill="none" stroke-linejoin="miter" stroke-miterlimit="4"/>
<rect x="395.6" y="11.8" width="272.79999999999995" height="236.8" fill="#fff" stroke="#262626" stroke-width="1.9"/>
<line x1="400.7" y1="23.45" x2="455.1" y2="23.45" stroke="#ff14a8" stroke-width="2.85"/>
<polygon points="428.00,16.50 430.17,19.98 434.50,19.98 432.33,23.45 434.50,26.93 430.17,26.93 428.00,30.40 425.83,26.93 421.50,26.93 423.67,23.45 421.50,19.98 425.83,19.98" stroke="#ff14a8" stroke-width="2.85" fill="none" stroke-linejoin="miter" stroke-miterlimit="4"/>
<text transform="translate(459.40,27.05) scale(1.1399,1)" font-size="15.4" stroke="#000" stroke-width="0.28">Proposed</text>
<text transform="translate(531.90,27.05) scale(1.1055,1)" font-size="15.4" stroke="#000" stroke-width="0.28">CBLSTM</text>
<text transform="translate(606.30,27.05) scale(1.1901,1)" font-size="15.4" stroke="#000" stroke-width="0.28">(CP</text>
<text transform="translate(640.80,27.05) scale(1.0409,1)" font-size="15.4" stroke="#000" stroke-width="0.28">16)</text>
<line x1="400.7" y1="42.82" x2="455.1" y2="42.82" stroke="#7e2f8e" stroke-width="2.85"/>
<polygon points="428.00,35.72 429.67,40.63 435.09,40.63 430.71,43.66 432.38,48.56 428.00,45.53 423.62,48.56 425.29,43.66 420.91,40.63 426.33,40.63" stroke="#7e2f8e" stroke-width="2.85" fill="none" stroke-linejoin="miter" stroke-miterlimit="4"/>
<text transform="translate(459.40,46.42) scale(1.1062,1)" font-size="15.4" stroke="#000" stroke-width="0.28">BiLSTM</text>
<text transform="translate(527.20,46.42) scale(1.1901,1)" font-size="15.4" stroke="#000" stroke-width="0.28">(CP</text>
<text transform="translate(561.70,46.42) scale(1.0409,1)" font-size="15.4" stroke="#000" stroke-width="0.28">16)</text>
<line x1="400.7" y1="62.19" x2="455.1" y2="62.19" stroke="#77ac30" stroke-width="2.85"/>
<polygon points="418.40,62.19 432.60,70.19 432.60,54.19" stroke="#77ac30" stroke-width="2.85" fill="none" stroke-linejoin="miter" stroke-miterlimit="4"/>
<text transform="translate(459.90,65.79) scale(1.0941,1)" font-size="15.4" stroke="#000" stroke-width="0.28">CNN-LSTM</text>
<text transform="translate(552.60,65.79) scale(1.1901,1)" font-size="15.4" stroke="#000" stroke-width="0.28">(CP</text>
<text transform="translate(587.10,65.79) scale(1.0409,1)" font-size="15.4" stroke="#000" stroke-width="0.28">16)</text>
<line x1="400.7" y1="81.56" x2="455.1" y2="81.56" stroke="#a2142f" stroke-width="2.85"/>
<polygon points="437.60,81.56 423.40,89.56 423.40,73.56" stroke="#a2142f" stroke-width="2.85" fill="none" stroke-linejoin="miter" stroke-miterlimit="4"/>
<text transform="translate(459.90,85.16) scale(1.0771,1)" font-size="15.4" stroke="#000" stroke-width="0.28">CNN</text>
<text transform="translate(501.50,85.16) scale(1.1901,1)" font-size="15.4" stroke="#000" stroke-width="0.28">(CP</text>
<text transform="translate(536.00,85.16) scale(1.0409,1)" font-size="15.4" stroke="#000" stroke-width="0.28">16)</text>
<line x1="400.7" y1="100.93" x2="455.1" y2="100.93" stroke="#0072bd" stroke-width="2.85"/>
<polygon points="428.00,91.53 436.50,105.43 419.50,105.43" stroke="#0072bd" stroke-width="2.85" fill="none" stroke-linejoin="miter" stroke-miterlimit="4"/>
<text transform="translate(459.40,104.53) scale(1.0940,1)" font-size="15.4" stroke="#000" stroke-width="0.28">LSTM</text>
<text transform="translate(511.20,104.53) scale(1.1901,1)" font-size="15.4" stroke="#000" stroke-width="0.28">(CP</text>
<text transform="translate(545.70,104.53) scale(1.0409,1)" font-size="15.4" stroke="#000" stroke-width="0.28">16)</text>
<line x1="400.7" y1="120.30" x2="455.1" y2="120.30" stroke="#edb120" stroke-width="2.85"/>
<polygon points="428.00,129.70 436.50,115.80 419.50,115.80" stroke="#edb120" stroke-width="2.85" fill="none" stroke-linejoin="miter" stroke-miterlimit="4"/>
<text transform="translate(459.40,123.90) scale(1.0804,1)" font-size="15.4" stroke="#000" stroke-width="0.28">MMSE</text>
<text transform="translate(515.30,123.90) scale(1.1901,1)" font-size="15.4" stroke="#000" stroke-width="0.28">(CP</text>
<text transform="translate(549.80,123.90) scale(1.0409,1)" font-size="15.4" stroke="#000" stroke-width="0.28">16)</text>
<line x1="400.7" y1="139.67" x2="455.1" y2="139.67" stroke="#ffafdc" stroke-width="2.85"/>
<line x1="420.50" y1="139.67" x2="435.50" y2="139.67" stroke="#ffafdc" stroke-width="2.85" fill="none" stroke-linejoin="miter" stroke-miterlimit="4"/><line x1="428.00" y1="132.32" x2="428.00" y2="147.02" stroke="#ffafdc" stroke-width="2.85" fill="none" stroke-linejoin="miter" stroke-miterlimit="4"/><line x1="423.00" y1="134.82" x2="433.00" y2="144.52" stroke="#ffafdc" stroke-width="2.85" fill="none" stroke-linejoin="miter" stroke-miterlimit="4"/><line x1="423.00" y1="144.52" x2="433.00" y2="134.82" stroke="#ffafdc" stroke-width="2.85" fill="none" stroke-linejoin="miter" stroke-miterlimit="4"/>
<text transform="translate(459.40,143.27) scale(1.1399,1)" font-size="15.4" stroke="#000" stroke-width="0.28">Proposed</text>
<text transform="translate(531.90,143.27) scale(1.1055,1)" font-size="15.4" stroke="#000" stroke-width="0.28">CBLSTM</text>
<text transform="translate(606.30,143.27) scale(1.1901,1)" font-size="15.4" stroke="#000" stroke-width="0.28">(CP</text>
<text transform="translate(640.80,143.27) scale(0.9876,1)" font-size="15.4" stroke="#000" stroke-width="0.28">8)</text>
<line x1="400.7" y1="159.04" x2="455.1" y2="159.04" stroke="#cc00ff" stroke-width="2.85"/>
<polygon points="422.35,153.59 433.65,153.59 433.65,164.49 422.35,164.49" stroke="#cc00ff" stroke-width="2.85" fill="none" stroke-linejoin="miter" stroke-miterlimit="4"/>
<text transform="translate(459.40,162.64) scale(1.1062,1)" font-size="15.4" stroke="#000" stroke-width="0.28">BiLSTM</text>
<text transform="translate(527.20,162.64) scale(1.1901,1)" font-size="15.4" stroke="#000" stroke-width="0.28">(CP</text>
<text transform="translate(561.70,162.64) scale(0.9876,1)" font-size="15.4" stroke="#000" stroke-width="0.28">8)</text>
<line x1="400.7" y1="178.41" x2="455.1" y2="178.41" stroke="#87fa0a" stroke-width="2.85"/>
<polygon points="428.00,169.11 435.20,178.41 428.00,187.71 420.80,178.41" stroke="#87fa0a" stroke-width="2.85" fill="none" stroke-linejoin="miter" stroke-miterlimit="4"/>
<text transform="translate(459.90,182.01) scale(1.0941,1)" font-size="15.4" stroke="#000" stroke-width="0.28">CNN-LSTM</text>
<text transform="translate(552.60,182.01) scale(1.1901,1)" font-size="15.4" stroke="#000" stroke-width="0.28">(CP</text>
<text transform="translate(587.10,182.01) scale(0.9876,1)" font-size="15.4" stroke="#000" stroke-width="0.28">8)</text>
<line x1="400.7" y1="197.78" x2="455.1" y2="197.78" stroke="#fa002d" stroke-width="2.85"/>
<line x1="423.00" y1="192.93" x2="433.00" y2="202.63" stroke="#fa002d" stroke-width="2.85" fill="none" stroke-linejoin="miter" stroke-miterlimit="4"/><line x1="423.00" y1="202.63" x2="433.00" y2="192.93" stroke="#fa002d" stroke-width="2.85" fill="none" stroke-linejoin="miter" stroke-miterlimit="4"/>
<text transform="translate(459.90,201.38) scale(1.0771,1)" font-size="15.4" stroke="#000" stroke-width="0.28">CNN</text>
<text transform="translate(501.50,201.38) scale(1.1901,1)" font-size="15.4" stroke="#000" stroke-width="0.28">(CP</text>
<text transform="translate(536.00,201.38) scale(0.9876,1)" font-size="15.4" stroke="#000" stroke-width="0.28">8)</text>
<line x1="400.7" y1="217.15" x2="455.1" y2="217.15" stroke="#19e6b9" stroke-width="2.85"/>
<ellipse cx="428.00" cy="217.15" rx="7.25" ry="7.1" stroke="#19e6b9" stroke-width="2.85" fill="none" stroke-linejoin="miter" stroke-miterlimit="4"/>
<text transform="translate(459.40,220.75) scale(1.0940,1)" font-size="15.4" stroke="#000" stroke-width="0.28">LSTM</text>
<text transform="translate(511.20,220.75) scale(1.1901,1)" font-size="15.4" stroke="#000" stroke-width="0.28">(CP</text>
<text transform="translate(545.70,220.75) scale(0.9876,1)" font-size="15.4" stroke="#000" stroke-width="0.28">8)</text>
<line x1="400.7" y1="236.52" x2="455.1" y2="236.52" stroke="#fafa0a" stroke-width="2.85"/>
<line x1="420.50" y1="236.52" x2="435.50" y2="236.52" stroke="#fafa0a" stroke-width="2.85" fill="none" stroke-linejoin="miter" stroke-miterlimit="4"/><line x1="428.00" y1="229.17" x2="428.00" y2="243.87" stroke="#fafa0a" stroke-width="2.85" fill="none" stroke-linejoin="miter" stroke-miterlimit="4"/>
<text transform="translate(459.40,240.12) scale(1.0804,1)" font-size="15.4" stroke="#000" stroke-width="0.28">MMSE</text>
<text transform="translate(515.30,240.12) scale(1.1901,1)" font-size="15.4" stroke="#000" stroke-width="0.28">(CP</text>
<text transform="translate(549.80,240.12) scale(0.9876,1)" font-size="15.4" stroke="#000" stroke-width="0.28">8)</text>
<text transform="translate(327.40,498.00) scale(1.0782,1)" font-size="20.5" stroke="#000" stroke-width="0.3">SNR</text>
<text transform="translate(379.90,498.00) scale(1.1059,1)" font-size="20.5" stroke="#000" stroke-width="0.3">(dB)</text>
<g transform="translate(44.4,268.9) rotate(-90)"><text transform="translate(0.00,0.00) scale(0.8998,1)" font-size="23.2" stroke="#000" stroke-width="0.3">MSE</text><text transform="translate(53.20,0.00) scale(0.9090,1)" font-size="23.2" stroke="#000" stroke-width="0.3">(dB)</text></g>
<clipPath id="clip2"><rect x="75.0" y="625.7" width="597.4" height="443.39999999999986"/></clipPath>
<line x1="149.68" y1="625.7" x2="149.68" y2="1069.1" stroke="#dadada" stroke-width="1.6"/>
<line x1="224.35" y1="625.7" x2="224.35" y2="1069.1" stroke="#dadada" stroke-width="1.6"/>
<line x1="299.02" y1="625.7" x2="299.02" y2="1069.1" stroke="#dadada" stroke-width="1.6"/>
<line x1="373.70" y1="625.7" x2="373.70" y2="1069.1" stroke="#dadada" stroke-width="1.6"/>
<line x1="448.38" y1="625.7" x2="448.38" y2="1069.1" stroke="#dadada" stroke-width="1.6"/>
<line x1="523.05" y1="625.7" x2="523.05" y2="1069.1" stroke="#dadada" stroke-width="1.6"/>
<line x1="597.73" y1="625.7" x2="597.73" y2="1069.1" stroke="#dadada" stroke-width="1.6"/>
<line x1="75.0" y1="1005.76" x2="672.4" y2="1005.76" stroke="#dadada" stroke-width="1.6"/>
<line x1="75.0" y1="942.41" x2="672.4" y2="942.41" stroke="#dadada" stroke-width="1.6"/>
<line x1="75.0" y1="879.07" x2="672.4" y2="879.07" stroke="#dadada" stroke-width="1.6"/>
<line x1="75.0" y1="815.73" x2="672.4" y2="815.73" stroke="#dadada" stroke-width="1.6"/>
<line x1="75.0" y1="752.39" x2="672.4" y2="752.39" stroke="#dadada" stroke-width="1.6"/>
<line x1="75.0" y1="689.04" x2="672.4" y2="689.04" stroke="#dadada" stroke-width="1.6"/>
<line x1="75.00" y1="1069.1" x2="75.00" y2="1062.8999999999999" stroke="#262626" stroke-width="1.9"/>
<line x1="75.00" y1="625.7" x2="75.00" y2="631.9000000000001" stroke="#262626" stroke-width="1.9"/>
<line x1="149.68" y1="1069.1" x2="149.68" y2="1062.8999999999999" stroke="#262626" stroke-width="1.9"/>
<line x1="149.68" y1="625.7" x2="149.68" y2="631.9000000000001" stroke="#262626" stroke-width="1.9"/>
<line x1="224.35" y1="1069.1" x2="224.35" y2="1062.8999999999999" stroke="#262626" stroke-width="1.9"/>
<line x1="224.35" y1="625.7" x2="224.35" y2="631.9000000000001" stroke="#262626" stroke-width="1.9"/>
<line x1="299.02" y1="1069.1" x2="299.02" y2="1062.8999999999999" stroke="#262626" stroke-width="1.9"/>
<line x1="299.02" y1="625.7" x2="299.02" y2="631.9000000000001" stroke="#262626" stroke-width="1.9"/>
<line x1="373.70" y1="1069.1" x2="373.70" y2="1062.8999999999999" stroke="#262626" stroke-width="1.9"/>
<line x1="373.70" y1="625.7" x2="373.70" y2="631.9000000000001" stroke="#262626" stroke-width="1.9"/>
<line x1="448.38" y1="1069.1" x2="448.38" y2="1062.8999999999999" stroke="#262626" stroke-width="1.9"/>
<line x1="448.38" y1="625.7" x2="448.38" y2="631.9000000000001" stroke="#262626" stroke-width="1.9"/>
<line x1="523.05" y1="1069.1" x2="523.05" y2="1062.8999999999999" stroke="#262626" stroke-width="1.9"/>
<line x1="523.05" y1="625.7" x2="523.05" y2="631.9000000000001" stroke="#262626" stroke-width="1.9"/>
<line x1="597.73" y1="1069.1" x2="597.73" y2="1062.8999999999999" stroke="#262626" stroke-width="1.9"/>
<line x1="597.73" y1="625.7" x2="597.73" y2="631.9000000000001" stroke="#262626" stroke-width="1.9"/>
<line x1="672.40" y1="1069.1" x2="672.40" y2="1062.8999999999999" stroke="#262626" stroke-width="1.9"/>
<line x1="672.40" y1="625.7" x2="672.40" y2="631.9000000000001" stroke="#262626" stroke-width="1.9"/>
<line x1="75.0" y1="1069.10" x2="81.2" y2="1069.10" stroke="#262626" stroke-width="1.9"/>
<line x1="672.4" y1="1069.10" x2="666.1999999999999" y2="1069.10" stroke="#262626" stroke-width="1.9"/>
<line x1="75.0" y1="1005.76" x2="81.2" y2="1005.76" stroke="#262626" stroke-width="1.9"/>
<line x1="672.4" y1="1005.76" x2="666.1999999999999" y2="1005.76" stroke="#262626" stroke-width="1.9"/>
<line x1="75.0" y1="942.41" x2="81.2" y2="942.41" stroke="#262626" stroke-width="1.9"/>
<line x1="672.4" y1="942.41" x2="666.1999999999999" y2="942.41" stroke="#262626" stroke-width="1.9"/>
<line x1="75.0" y1="879.07" x2="81.2" y2="879.07" stroke="#262626" stroke-width="1.9"/>
<line x1="672.4" y1="879.07" x2="666.1999999999999" y2="879.07" stroke="#262626" stroke-width="1.9"/>
<line x1="75.0" y1="815.73" x2="81.2" y2="815.73" stroke="#262626" stroke-width="1.9"/>
<line x1="672.4" y1="815.73" x2="666.1999999999999" y2="815.73" stroke="#262626" stroke-width="1.9"/>
<line x1="75.0" y1="752.39" x2="81.2" y2="752.39" stroke="#262626" stroke-width="1.9"/>
<line x1="672.4" y1="752.39" x2="666.1999999999999" y2="752.39" stroke="#262626" stroke-width="1.9"/>
<line x1="75.0" y1="689.04" x2="81.2" y2="689.04" stroke="#262626" stroke-width="1.9"/>
<line x1="672.4" y1="689.04" x2="666.1999999999999" y2="689.04" stroke="#262626" stroke-width="1.9"/>
<line x1="75.0" y1="625.70" x2="81.2" y2="625.70" stroke="#262626" stroke-width="1.9"/>
<line x1="672.4" y1="625.70" x2="666.1999999999999" y2="625.70" stroke="#262626" stroke-width="1.9"/>
<rect x="75.0" y="625.7" width="597.4" height="443.39999999999986" fill="none" stroke="#262626" stroke-width="1.9"/>
<text transform="translate(66.80,1077.20) scale(1.04,1)" font-size="21.3" text-anchor="end" stroke="#000" stroke-width="0.3">0.4</text>
<text transform="translate(66.80,1013.86) scale(1.04,1)" font-size="21.3" text-anchor="end" stroke="#000" stroke-width="0.3">0.45</text>
<text transform="translate(66.80,950.51) scale(1.04,1)" font-size="21.3" text-anchor="end" stroke="#000" stroke-width="0.3">0.5</text>
<text transform="translate(66.80,887.17) scale(1.04,1)" font-size="21.3" text-anchor="end" stroke="#000" stroke-width="0.3">0.55</text>
<text transform="translate(66.80,823.83) scale(1.04,1)" font-size="21.3" text-anchor="end" stroke="#000" stroke-width="0.3">0.6</text>
<text transform="translate(66.80,760.49) scale(1.04,1)" font-size="21.3" text-anchor="end" stroke="#000" stroke-width="0.3">0.65</text>
<text transform="translate(66.80,697.14) scale(1.04,1)" font-size="21.3" text-anchor="end" stroke="#000" stroke-width="0.3">0.7</text>
<text transform="translate(66.80,633.80) scale(1.04,1)" font-size="21.3" text-anchor="end" stroke="#000" stroke-width="0.3">0.75</text>
<text transform="translate(75.00,1097.30) scale(1.04,1)" font-size="21.3" text-anchor="middle" stroke="#000" stroke-width="0.3">0</text>
<text transform="translate(149.68,1097.30) scale(1.04,1)" font-size="21.3" text-anchor="middle" stroke="#000" stroke-width="0.3">5</text>
<text transform="translate(224.35,1097.30) scale(1.04,1)" font-size="21.3" text-anchor="middle" stroke="#000" stroke-width="0.3">10</text>
<text transform="translate(299.02,1097.30) scale(1.04,1)" font-size="21.3" text-anchor="middle" stroke="#000" stroke-width="0.3">15</text>
<text transform="translate(373.70,1097.30) scale(1.04,1)" font-size="21.3" text-anchor="middle" stroke="#000" stroke-width="0.3">20</text>
<text transform="translate(448.38,1097.30) scale(1.04,1)" font-size="21.3" text-anchor="middle" stroke="#000" stroke-width="0.3">25</text>
<text transform="translate(523.05,1097.30) scale(1.04,1)" font-size="21.3" text-anchor="middle" stroke="#000" stroke-width="0.3">30</text>
<text transform="translate(597.73,1097.30) scale(1.04,1)" font-size="21.3" text-anchor="middle" stroke="#000" stroke-width="0.3">35</text>
<text transform="translate(672.40,1097.30) scale(1.04,1)" font-size="21.3" text-anchor="middle" stroke="#000" stroke-width="0.3">40</text>
<polyline points="75.00,801.16 149.68,946.21 224.35,1001.58 299.02,1019.06 373.70,1024.00 448.38,1024.89 523.05,1025.65 597.73,1025.65 672.40,1025.65" fill="none" stroke="#ff14a8" stroke-width="2.85" stroke-linejoin="round" clip-path="url(#clip2)"/>
<polygon points="75.00,794.21 77.17,797.68 81.50,797.68 79.33,801.16 81.50,804.63 77.17,804.63 75.00,808.11 72.83,804.63 68.50,804.63 70.67,801.16 68.50,797.68 72.83,797.68" stroke="#ff14a8" stroke-width="2.85" fill="none" stroke-linejoin="miter" stroke-miterlimit="4"/>
<polygon points="149.68,939.26 151.84,942.74 156.17,942.74 154.01,946.21 156.17,949.69 151.84,949.69 149.68,953.16 147.51,949.69 143.18,949.69 145.34,946.21 143.18,942.74 147.51,942.74" stroke="#ff14a8" stroke-width="2.85" fill="none" stroke-linejoin="miter" stroke-miterlimit="4"/>
<polygon points="224.35,994.63 226.52,998.10 230.85,998.10 228.68,1001.58 230.85,1005.05 226.52,1005.05 224.35,1008.53 222.18,1005.05 217.85,1005.05 220.02,1001.58 217.85,998.10 222.18,998.10" stroke="#ff14a8" stroke-width="2.85" fill="none" stroke-linejoin="miter" stroke-miterlimit="4"/>
<polygon points="299.02,1012.11 301.19,1015.58 305.52,1015.58 303.36,1019.06 305.52,1022.53 301.19,1022.53 299.02,1026.01 296.86,1022.53 292.53,1022.53 294.69,1019.06 292.53,1015.58 296.86,1015.58" stroke="#ff14a8" stroke-width="2.85" fill="none" stroke-linejoin="miter" stroke-miterlimit="4"/>
<polygon points="373.70,1017.05 375.87,1020.52 380.20,1020.52 378.03,1024.00 380.20,1027.47 375.87,1027.47 373.70,1030.95 371.53,1027.47 367.20,1027.47 369.37,1024.00 367.20,1020.52 371.53,1020.52" stroke="#ff14a8" stroke-width="2.85" fill="none" stroke-linejoin="miter" stroke-miterlimit="4"/>
<polygon points="448.38,1017.94 450.54,1021.41 454.87,1021.41 452.71,1024.89 454.87,1028.36 450.54,1028.36 448.38,1031.84 446.21,1028.36 441.88,1028.36 444.04,1024.89 441.88,1021.41 446.21,1021.41" stroke="#ff14a8" stroke-width="2.85" fill="none" stroke-linejoin="miter" stroke-miterlimit="4"/>
<polygon points="523.05,1018.70 525.22,1022.17 529.55,1022.17 527.38,1025.65 529.55,1029.12 525.22,1029.12 523.05,1032.60 520.88,1029.12 516.55,1029.12 518.72,1025.65 516.55,1022.17 520.88,1022.17" stroke="#ff14a8" stroke-width="2.85" fill="none" stroke-linejoin="miter" stroke-miterlimit="4"/>
<polygon points="597.73,1018.70 599.89,1022.17 604.22,1022.17 602.06,1025.65 604.22,1029.12 599.89,1029.12 597.73,1032.60 595.56,1029.12 591.23,1029.12 593.39,1025.65 591.23,1022.17 595.56,1022.17" stroke="#ff14a8" stroke-width="2.85" fill="none" stroke-linejoin="miter" stroke-miterlimit="4"/>
<polygon points="672.40,1018.70 674.57,1022.17 678.90,1022.17 676.73,1025.65 678.90,1029.12 674.57,1029.12 672.40,1032.60 670.23,1029.12 665.90,1029.12 668.07,1025.65 665.90,1022.17 670.23,1022.17" stroke="#ff14a8" stroke-width="2.85" fill="none" stroke-linejoin="miter" stroke-miterlimit="4"/>
<polyline points="75.00,789.12 149.68,930.38 224.35,986.63 299.02,1001.45 373.70,1007.53 448.38,1008.29 523.05,1008.92 597.73,1008.92 672.40,1008.92" fill="none" stroke="#7e2f8e" stroke-width="2.85" stroke-linejoin="round" clip-path="url(#clip2)"/>
<polygon points="75.00,782.02 76.67,786.93 82.09,786.93 77.71,789.96 79.38,794.87 75.00,791.84 70.62,794.87 72.29,789.96 67.91,786.93 73.33,786.93" stroke="#7e2f8e" stroke-width="2.85" fill="none" stroke-linejoin="miter" stroke-miterlimit="4"/>
<polygon points="149.68,923.28 151.35,928.19 156.76,928.19 152.38,931.22 154.05,936.12 149.68,933.09 145.30,936.12 146.97,931.22 142.59,928.19 148.00,928.19" stroke="#7e2f8e" stroke-width="2.85" fill="none" stroke-linejoin="miter" stroke-miterlimit="4"/>
<polygon points="224.35,979.53 226.02,984.43 231.44,984.43 227.06,987.47 228.73,992.37 224.35,989.34 219.97,992.37 221.64,987.47 217.26,984.43 222.68,984.43" stroke="#7e2f8e" stroke-width="2.85" fill="none" stroke-linejoin="miter" stroke-miterlimit="4"/>
<polygon points="299.02,994.35 300.70,999.26 306.11,999.26 301.73,1002.29 303.40,1007.19 299.02,1004.16 294.65,1007.19 296.32,1002.29 291.94,999.26 297.35,999.26" stroke="#7e2f8e" stroke-width="2.85" fill="none" stroke-linejoin="miter" stroke-miterlimit="4"/>
<polygon points="373.70,1000.43 375.37,1005.34 380.79,1005.34 376.41,1008.37 378.08,1013.27 373.70,1010.24 369.32,1013.27 370.99,1008.37 366.61,1005.34 372.03,1005.34" stroke="#7e2f8e" stroke-width="2.85" fill="none" stroke-linejoin="miter" stroke-miterlimit="4"/>
<polygon points="448.38,1001.19 450.05,1006.10 455.46,1006.10 451.08,1009.13 452.75,1014.03 448.38,1011.00 444.00,1014.03 445.67,1009.13 441.29,1006.10 446.70,1006.10" stroke="#7e2f8e" stroke-width="2.85" fill="none" stroke-linejoin="miter" stroke-miterlimit="4"/>
<polygon points="523.05,1001.82 524.72,1006.73 530.14,1006.73 525.76,1009.76 527.43,1014.67 523.05,1011.64 518.67,1014.67 520.34,1009.76 515.96,1006.73 521.38,1006.73" stroke="#7e2f8e" stroke-width="2.85" fill="none" stroke-linejoin="miter" stroke-miterlimit="4"/>
<polygon points="597.73,1001.82 599.40,1006.73 604.81,1006.73 600.43,1009.76 602.10,1014.67 597.73,1011.64 593.35,1014.67 595.02,1009.76 590.64,1006.73 596.05,1006.73" stroke="#7e2f8e" stroke-width="2.85" fill="none" stroke-linejoin="miter" stroke-miterlimit="4"/>
<polygon points="672.40,1001.82 674.07,1006.73 679.49,1006.73 675.11,1009.76 676.78,1014.67 672.40,1011.64 668.02,1014.67 669.69,1009.76 665.31,1006.73 670.73,1006.73" stroke="#7e2f8e" stroke-width="2.85" fill="none" stroke-linejoin="miter" stroke-miterlimit="4"/>
<polyline points="75.00,774.43 149.68,912.26 224.35,972.57 299.02,987.77 373.70,993.85 448.38,994.61 523.05,994.61 597.73,994.61 672.40,994.61" fill="none" stroke="#77ac30" stroke-width="2.85" stroke-linejoin="round" clip-path="url(#clip2)"/>
<polygon points="65.40,774.43 79.60,782.43 79.60,766.43" stroke="#77ac30" stroke-width="2.85" fill="none" stroke-linejoin="miter" stroke-miterlimit="4"/>
<polygon points="140.08,912.26 154.28,920.26 154.28,904.26" stroke="#77ac30" stroke-width="2.85" fill="none" stroke-linejoin="miter" stroke-miterlimit="4"/>
<polygon points="214.75,972.57 228.95,980.57 228.95,964.57" stroke="#77ac30" stroke-width="2.85" fill="none" stroke-linejoin="miter" stroke-miterlimit="4"/>
<polygon points="289.42,987.77 303.62,995.77 303.62,979.77" stroke="#77ac30" stroke-width="2.85" fill="none" stroke-linejoin="miter" stroke-miterlimit="4"/>
<polygon points="364.10,993.85 378.30,1001.85 378.30,985.85" stroke="#77ac30" stroke-width="2.85" fill="none" stroke-linejoin="miter" stroke-miterlimit="4"/>
<polygon points="438.77,994.61 452.98,1002.61 452.98,986.61" stroke="#77ac30" stroke-width="2.85" fill="none" stroke-linejoin="miter" stroke-miterlimit="4"/>
<polygon points="513.45,994.61 527.65,1002.61 527.65,986.61" stroke="#77ac30" stroke-width="2.85" fill="none" stroke-linejoin="miter" stroke-miterlimit="4"/>
<polygon points="588.12,994.61 602.33,1002.61 602.33,986.61" stroke="#77ac30" stroke-width="2.85" fill="none" stroke-linejoin="miter" stroke-miterlimit="4"/>
<polygon points="662.80,994.61 677.00,1002.61 677.00,986.61" stroke="#77ac30" stroke-width="2.85" fill="none" stroke-linejoin="miter" stroke-miterlimit="4"/>
<polyline points="75.00,766.83 149.68,896.55 224.35,955.34 299.02,973.71 373.70,982.07 448.38,982.07 523.05,982.45 597.73,982.45 672.40,982.45" fill="none" stroke="#a2142f" stroke-width="2.85" stroke-linejoin="round" clip-path="url(#clip2)"/>
<polygon points="84.60,766.83 70.40,774.83 70.40,758.83" stroke="#a2142f" stroke-width="2.85" fill="none" stroke-linejoin="miter" stroke-miterlimit="4"/>
<polygon points="159.28,896.55 145.08,904.55 145.08,888.55" stroke="#a2142f" stroke-width="2.85" fill="none" stroke-linejoin="miter" stroke-miterlimit="4"/>
<polygon points="233.95,955.34 219.75,963.34 219.75,947.34" stroke="#a2142f" stroke-width="2.85" fill="none" stroke-linejoin="miter" stroke-miterlimit="4"/>
<polygon points="308.62,973.71 294.42,981.71 294.42,965.71" stroke="#a2142f" stroke-width="2.85" fill="none" stroke-linejoin="miter" stroke-miterlimit="4"/>
<polygon points="383.30,982.07 369.10,990.07 369.10,974.07" stroke="#a2142f" stroke-width="2.85" fill="none" stroke-linejoin="miter" stroke-miterlimit="4"/>
<polygon points="457.98,982.07 443.77,990.07 443.77,974.07" stroke="#a2142f" stroke-width="2.85" fill="none" stroke-linejoin="miter" stroke-miterlimit="4"/>
<polygon points="532.65,982.45 518.45,990.45 518.45,974.45" stroke="#a2142f" stroke-width="2.85" fill="none" stroke-linejoin="miter" stroke-miterlimit="4"/>
<polygon points="607.33,982.45 593.12,990.45 593.12,974.45" stroke="#a2142f" stroke-width="2.85" fill="none" stroke-linejoin="miter" stroke-miterlimit="4"/>
<polygon points="682.00,982.45 667.80,990.45 667.80,974.45" stroke="#a2142f" stroke-width="2.85" fill="none" stroke-linejoin="miter" stroke-miterlimit="4"/>
<polyline points="75.00,753.02 149.68,877.93 224.35,940.39 299.02,958.12 373.70,966.61 448.38,966.74 523.05,967.50 597.73,967.50 672.40,967.50" fill="none" stroke="#0072bd" stroke-width="2.85" stroke-linejoin="round" clip-path="url(#clip2)"/>
<polygon points="75.00,743.62 83.50,757.52 66.50,757.52" stroke="#0072bd" stroke-width="2.85" fill="none" stroke-linejoin="miter" stroke-miterlimit="4"/>
<polygon points="149.68,868.53 158.18,882.43 141.18,882.43" stroke="#0072bd" stroke-width="2.85" fill="none" stroke-linejoin="miter" stroke-miterlimit="4"/>
<polygon points="224.35,930.99 232.85,944.89 215.85,944.89" stroke="#0072bd" stroke-width="2.85" fill="none" stroke-linejoin="miter" stroke-miterlimit="4"/>
<polygon points="299.02,948.72 307.52,962.62 290.52,962.62" stroke="#0072bd" stroke-width="2.85" fill="none" stroke-linejoin="miter" stroke-miterlimit="4"/>
<polygon points="373.70,957.21 382.20,971.11 365.20,971.11" stroke="#0072bd" stroke-width="2.85" fill="none" stroke-linejoin="miter" stroke-miterlimit="4"/>
<polygon points="448.38,957.34 456.88,971.24 439.88,971.24" stroke="#0072bd" stroke-width="2.85" fill="none" stroke-linejoin="miter" stroke-miterlimit="4"/>
<polygon points="523.05,958.10 531.55,972.00 514.55,972.00" stroke="#0072bd" stroke-width="2.85" fill="none" stroke-linejoin="miter" stroke-miterlimit="4"/>
<polygon points="597.73,958.10 606.23,972.00 589.23,972.00" stroke="#0072bd" stroke-width="2.85" fill="none" stroke-linejoin="miter" stroke-miterlimit="4"/>
<polygon points="672.40,958.10 680.90,972.00 663.90,972.00" stroke="#0072bd" stroke-width="2.85" fill="none" stroke-linejoin="miter" stroke-miterlimit="4"/>
<polyline points="75.00,739.34 149.68,862.35 224.35,925.44 299.02,944.44 373.70,953.69 448.38,954.07 523.05,955.34 597.73,955.34 672.40,955.34" fill="none" stroke="#edb120" stroke-width="2.85" stroke-linejoin="round" clip-path="url(#clip2)"/>
<polygon points="75.00,748.74 83.50,734.84 66.50,734.84" stroke="#edb120" stroke-width="2.85" fill="none" stroke-linejoin="miter" stroke-miterlimit="4"/>
<polygon points="149.68,871.75 158.18,857.85 141.18,857.85" stroke="#edb120" stroke-width="2.85" fill="none" stroke-linejoin="miter" stroke-miterlimit="4"/>
<polygon points="224.35,934.84 232.85,920.94 215.85,920.94" stroke="#edb120" stroke-width="2.85" fill="none" stroke-linejoin="miter" stroke-miterlimit="4"/>
<polygon points="299.02,953.84 307.52,939.94 290.52,939.94" stroke="#edb120" stroke-width="2.85" fill="none" stroke-linejoin="miter" stroke-miterlimit="4"/>
<polygon points="373.70,963.09 382.20,949.19 365.20,949.19" stroke="#edb120" stroke-width="2.85" fill="none" stroke-linejoin="miter" stroke-miterlimit="4"/>
<polygon points="448.38,963.47 456.88,949.57 439.88,949.57" stroke="#edb120" stroke-width="2.85" fill="none" stroke-linejoin="miter" stroke-miterlimit="4"/>
<polygon points="523.05,964.74 531.55,950.84 514.55,950.84" stroke="#edb120" stroke-width="2.85" fill="none" stroke-linejoin="miter" stroke-miterlimit="4"/>
<polygon points="597.73,964.74 606.23,950.84 589.23,950.84" stroke="#edb120" stroke-width="2.85" fill="none" stroke-linejoin="miter" stroke-miterlimit="4"/>
<polygon points="672.40,964.74 680.90,950.84 663.90,950.84" stroke="#edb120" stroke-width="2.85" fill="none" stroke-linejoin="miter" stroke-miterlimit="4"/>
<polyline points="75.00,720.97 149.68,843.85 224.35,906.69 299.02,928.48 373.70,938.36 448.38,943.81 523.05,943.93 597.73,943.93 672.40,943.93" fill="none" stroke="#ffa0d7" stroke-width="2.85" stroke-linejoin="round" clip-path="url(#clip2)"/>
<line x1="67.50" y1="720.97" x2="82.50" y2="720.97" stroke="#ffa0d7" stroke-width="2.85" fill="none" stroke-linejoin="miter" stroke-miterlimit="4"/><line x1="75.00" y1="713.62" x2="75.00" y2="728.32" stroke="#ffa0d7" stroke-width="2.85" fill="none" stroke-linejoin="miter" stroke-miterlimit="4"/><line x1="70.00" y1="716.12" x2="80.00" y2="725.82" stroke="#ffa0d7" stroke-width="2.85" fill="none" stroke-linejoin="miter" stroke-miterlimit="4"/><line x1="70.00" y1="725.82" x2="80.00" y2="716.12" stroke="#ffa0d7" stroke-width="2.85" fill="none" stroke-linejoin="miter" stroke-miterlimit="4"/>
<line x1="142.18" y1="843.85" x2="157.18" y2="843.85" stroke="#ffa0d7" stroke-width="2.85" fill="none" stroke-linejoin="miter" stroke-miterlimit="4"/><line x1="149.68" y1="836.50" x2="149.68" y2="851.20" stroke="#ffa0d7" stroke-width="2.85" fill="none" stroke-linejoin="miter" stroke-miterlimit="4"/><line x1="144.68" y1="839.00" x2="154.68" y2="848.70" stroke="#ffa0d7" stroke-width="2.85" fill="none" stroke-linejoin="miter" stroke-miterlimit="4"/><line x1="144.68" y1="848.70" x2="154.68" y2="839.00" stroke="#ffa0d7" stroke-width="2.85" fill="none" stroke-linejoin="miter" stroke-miterlimit="4"/>
<line x1="216.85" y1="906.69" x2="231.85" y2="906.69" stroke="#ffa0d7" stroke-width="2.85" fill="none" stroke-linejoin="miter" stroke-miterlimit="4"/><line x1="224.35" y1="899.34" x2="224.35" y2="914.04" stroke="#ffa0d7" stroke-width="2.85" fill="none" stroke-linejoin="miter" stroke-miterlimit="4"/><line x1="219.35" y1="901.84" x2="229.35" y2="911.54" stroke="#ffa0d7" stroke-width="2.85" fill="none" stroke-linejoin="miter" stroke-miterlimit="4"/><line x1="219.35" y1="911.54" x2="229.35" y2="901.84" stroke="#ffa0d7" stroke-width="2.85" fill="none" stroke-linejoin="miter" stroke-miterlimit="4"/>
<line x1="291.52" y1="928.48" x2="306.52" y2="928.48" stroke="#ffa0d7" stroke-width="2.85" fill="none" stroke-linejoin="miter" stroke-miterlimit="4"/><line x1="299.02" y1="921.13" x2="299.02" y2="935.83" stroke="#ffa0d7" stroke-width="2.85" fill="none" stroke-linejoin="miter" stroke-miterlimit="4"/><line x1="294.02" y1="923.63" x2="304.02" y2="933.33" stroke="#ffa0d7" stroke-width="2.85" fill="none" stroke-linejoin="miter" stroke-miterlimit="4"/><line x1="294.02" y1="933.33" x2="304.02" y2="923.63" stroke="#ffa0d7" stroke-width="2.85" fill="none" stroke-linejoin="miter" stroke-miterlimit="4"/>
<line x1="366.20" y1="938.36" x2="381.20" y2="938.36" stroke="#ffa0d7" stroke-width="2.85" fill="none" stroke-linejoin="miter" stroke-miterlimit="4"/><line x1="373.70" y1="931.01" x2="373.70" y2="945.71" stroke="#ffa0d7" stroke-width="2.85" fill="none" stroke-linejoin="miter" stroke-miterlimit="4"/><line x1="368.70" y1="933.51" x2="378.70" y2="943.21" stroke="#ffa0d7" stroke-width="2.85" fill="none" stroke-linejoin="miter" stroke-miterlimit="4"/><line x1="368.70" y1="943.21" x2="378.70" y2="933.51" stroke="#ffa0d7" stroke-width="2.85" fill="none" stroke-linejoin="miter" stroke-miterlimit="4"/>
<line x1="440.88" y1="943.81" x2="455.88" y2="943.81" stroke="#ffa0d7" stroke-width="2.85" fill="none" stroke-linejoin="miter" stroke-miterlimit="4"/><line x1="448.38" y1="936.46" x2="448.38" y2="951.16" stroke="#ffa0d7" stroke-width="2.85" fill="none" stroke-linejoin="miter" stroke-miterlimit="4"/><line x1="443.38" y1="938.96" x2="453.38" y2="948.66" stroke="#ffa0d7" stroke-width="2.85" fill="none" stroke-linejoin="miter" stroke-miterlimit="4"/><line x1="443.38" y1="948.66" x2="453.38" y2="938.96" stroke="#ffa0d7" stroke-width="2.85" fill="none" stroke-linejoin="miter" stroke-miterlimit="4"/>
<line x1="515.55" y1="943.93" x2="530.55" y2="943.93" stroke="#ffa0d7" stroke-width="2.85" fill="none" stroke-linejoin="miter" stroke-miterlimit="4"/><line x1="523.05" y1="936.58" x2="523.05" y2="951.28" stroke="#ffa0d7" stroke-width="2.85" fill="none" stroke-linejoin="miter" stroke-miterlimit="4"/><line x1="518.05" y1="939.08" x2="528.05" y2="948.78" stroke="#ffa0d7" stroke-width="2.85" fill="none" stroke-linejoin="miter" stroke-miterlimit="4"/><line x1="518.05" y1="948.78" x2="528.05" y2="939.08" stroke="#ffa0d7" stroke-width="2.85" fill="none" stroke-linejoin="miter" stroke-miterlimit="4"/>
<line x1="590.23" y1="943.93" x2="605.23" y2="943.93" stroke="#ffa0d7" stroke-width="2.85" fill="none" stroke-linejoin="miter" stroke-miterlimit="4"/><line x1="597.73" y1="936.58" x2="597.73" y2="951.28" stroke="#ffa0d7" stroke-width="2.85" fill="none" stroke-linejoin="miter" stroke-miterlimit="4"/><line x1="592.73" y1="939.08" x2="602.73" y2="948.78" stroke="#ffa0d7" stroke-width="2.85" fill="none" stroke-linejoin="miter" stroke-miterlimit="4"/><line x1="592.73" y1="948.78" x2="602.73" y2="939.08" stroke="#ffa0d7" stroke-width="2.85" fill="none" stroke-linejoin="miter" stroke-miterlimit="4"/>
<line x1="664.90" y1="943.93" x2="679.90" y2="943.93" stroke="#ffa0d7" stroke-width="2.85" fill="none" stroke-linejoin="miter" stroke-miterlimit="4"/><line x1="672.40" y1="936.58" x2="672.40" y2="951.28" stroke="#ffa0d7" stroke-width="2.85" fill="none" stroke-linejoin="miter" stroke-miterlimit="4"/><line x1="667.40" y1="939.08" x2="677.40" y2="948.78" stroke="#ffa0d7" stroke-width="2.85" fill="none" stroke-linejoin="miter" stroke-miterlimit="4"/><line x1="667.40" y1="948.78" x2="677.40" y2="939.08" stroke="#ffa0d7" stroke-width="2.85" fill="none" stroke-linejoin="miter" stroke-miterlimit="4"/>
<polyline points="75.00,708.43 149.68,827.38 224.35,888.07 299.02,913.66 373.70,925.06 448.38,931.65 523.05,932.03 597.73,932.03 672.40,932.03" fill="none" stroke="#c800fa" stroke-width="2.85" stroke-linejoin="round" clip-path="url(#clip2)"/>
<polygon points="69.35,702.98 80.65,702.98 80.65,713.88 69.35,713.88" stroke="#c800fa" stroke-width="2.85" fill="none" stroke-linejoin="miter" stroke-miterlimit="4"/>
<polygon points="144.03,821.93 155.33,821.93 155.33,832.83 144.03,832.83" stroke="#c800fa" stroke-width="2.85" fill="none" stroke-linejoin="miter" stroke-miterlimit="4"/>
<polygon points="218.70,882.62 230.00,882.62 230.00,893.52 218.70,893.52" stroke="#c800fa" stroke-width="2.85" fill="none" stroke-linejoin="miter" stroke-miterlimit="4"/>
<polygon points="293.38,908.21 304.67,908.21 304.67,919.11 293.38,919.11" stroke="#c800fa" stroke-width="2.85" fill="none" stroke-linejoin="miter" stroke-miterlimit="4"/>
<polygon points="368.05,919.61 379.35,919.61 379.35,930.51 368.05,930.51" stroke="#c800fa" stroke-width="2.85" fill="none" stroke-linejoin="miter" stroke-miterlimit="4"/>
<polygon points="442.73,926.20 454.02,926.20 454.02,937.10 442.73,937.10" stroke="#c800fa" stroke-width="2.85" fill="none" stroke-linejoin="miter" stroke-miterlimit="4"/>
<polygon points="517.40,926.58 528.70,926.58 528.70,937.48 517.40,937.48" stroke="#c800fa" stroke-width="2.85" fill="none" stroke-linejoin="miter" stroke-miterlimit="4"/>
<polygon points="592.08,926.58 603.38,926.58 603.38,937.48 592.08,937.48" stroke="#c800fa" stroke-width="2.85" fill="none" stroke-linejoin="miter" stroke-miterlimit="4"/>
<polygon points="666.75,926.58 678.05,926.58 678.05,937.48 666.75,937.48" stroke="#c800fa" stroke-width="2.85" fill="none" stroke-linejoin="miter" stroke-miterlimit="4"/>
<polyline points="75.00,693.22 149.68,815.10 224.35,869.70 299.02,897.82 373.70,908.97 448.38,917.46 523.05,917.46 597.73,917.46 672.40,917.46" fill="none" stroke="#82fa0a" stroke-width="2.85" stroke-linejoin="round" clip-path="url(#clip2)"/>
<polygon points="75.00,683.92 82.20,693.22 75.00,702.52 67.80,693.22" stroke="#82fa0a" stroke-width="2.85" fill="none" stroke-linejoin="miter" stroke-miterlimit="4"/>
<polygon points="149.68,805.80 156.88,815.10 149.68,824.40 142.48,815.10" stroke="#82fa0a" stroke-width="2.85" fill="none" stroke-linejoin="miter" stroke-miterlimit="4"/>
<polygon points="224.35,860.40 231.55,869.70 224.35,879.00 217.15,869.70" stroke="#82fa0a" stroke-width="2.85" fill="none" stroke-linejoin="miter" stroke-miterlimit="4"/>
<polygon points="299.02,888.52 306.22,897.82 299.02,907.12 291.82,897.82" stroke="#82fa0a" stroke-width="2.85" fill="none" stroke-linejoin="miter" stroke-miterlimit="4"/>
<polygon points="373.70,899.67 380.90,908.97 373.70,918.27 366.50,908.97" stroke="#82fa0a" stroke-width="2.85" fill="none" stroke-linejoin="miter" stroke-miterlimit="4"/>
<polygon points="448.38,908.16 455.57,917.46 448.38,926.76 441.18,917.46" stroke="#82fa0a" stroke-width="2.85" fill="none" stroke-linejoin="miter" stroke-miterlimit="4"/>
<polygon points="523.05,908.16 530.25,917.46 523.05,926.76 515.85,917.46" stroke="#82fa0a" stroke-width="2.85" fill="none" stroke-linejoin="miter" stroke-miterlimit="4"/>
<polygon points="597.73,908.16 604.93,917.46 597.73,926.76 590.52,917.46" stroke="#82fa0a" stroke-width="2.85" fill="none" stroke-linejoin="miter" stroke-miterlimit="4"/>
<polygon points="672.40,908.16 679.60,917.46 672.40,926.76 665.20,917.46" stroke="#82fa0a" stroke-width="2.85" fill="none" stroke-linejoin="miter" stroke-miterlimit="4"/>
<polyline points="75.00,680.93 149.68,799.13 224.35,855.25 299.02,885.03 373.70,896.81 448.38,904.41 523.05,904.79 597.73,904.79 672.40,904.79" fill="none" stroke="#ff0a0a" stroke-width="2.85" stroke-linejoin="round" clip-path="url(#clip2)"/>
<line x1="70.00" y1="676.08" x2="80.00" y2="685.78" stroke="#ff0a0a" stroke-width="2.85" fill="none" stroke-linejoin="miter" stroke-miterlimit="4"/><line x1="70.00" y1="685.78" x2="80.00" y2="676.08" stroke="#ff0a0a" stroke-width="2.85" fill="none" stroke-linejoin="miter" stroke-miterlimit="4"/>
<line x1="144.68" y1="794.28" x2="154.68" y2="803.98" stroke="#ff0a0a" stroke-width="2.85" fill="none" stroke-linejoin="miter" stroke-miterlimit="4"/><line x1="144.68" y1="803.98" x2="154.68" y2="794.28" stroke="#ff0a0a" stroke-width="2.85" fill="none" stroke-linejoin="miter" stroke-miterlimit="4"/>
<line x1="219.35" y1="850.40" x2="229.35" y2="860.10" stroke="#ff0a0a" stroke-width="2.85" fill="none" stroke-linejoin="miter" stroke-miterlimit="4"/><line x1="219.35" y1="860.10" x2="229.35" y2="850.40" stroke="#ff0a0a" stroke-width="2.85" fill="none" stroke-linejoin="miter" stroke-miterlimit="4"/>
<line x1="294.02" y1="880.18" x2="304.02" y2="889.88" stroke="#ff0a0a" stroke-width="2.85" fill="none" stroke-linejoin="miter" stroke-miterlimit="4"/><line x1="294.02" y1="889.88" x2="304.02" y2="880.18" stroke="#ff0a0a" stroke-width="2.85" fill="none" stroke-linejoin="miter" stroke-miterlimit="4"/>
<line x1="368.70" y1="891.96" x2="378.70" y2="901.66" stroke="#ff0a0a" stroke-width="2.85" fill="none" stroke-linejoin="miter" stroke-miterlimit="4"/><line x1="368.70" y1="901.66" x2="378.70" y2="891.96" stroke="#ff0a0a" stroke-width="2.85" fill="none" stroke-linejoin="miter" stroke-miterlimit="4"/>
<line x1="443.38" y1="899.56" x2="453.38" y2="909.26" stroke="#ff0a0a" stroke-width="2.85" fill="none" stroke-linejoin="miter" stroke-miterlimit="4"/><line x1="443.38" y1="909.26" x2="453.38" y2="899.56" stroke="#ff0a0a" stroke-width="2.85" fill="none" stroke-linejoin="miter" stroke-miterlimit="4"/>
<line x1="518.05" y1="899.94" x2="528.05" y2="909.64" stroke="#ff0a0a" stroke-width="2.85" fill="none" stroke-linejoin="miter" stroke-miterlimit="4"/><line x1="518.05" y1="909.64" x2="528.05" y2="899.94" stroke="#ff0a0a" stroke-width="2.85" fill="none" stroke-linejoin="miter" stroke-miterlimit="4"/>
<line x1="592.73" y1="899.94" x2="602.73" y2="909.64" stroke="#ff0a0a" stroke-width="2.85" fill="none" stroke-linejoin="miter" stroke-miterlimit="4"/><line x1="592.73" y1="909.64" x2="602.73" y2="899.94" stroke="#ff0a0a" stroke-width="2.85" fill="none" stroke-linejoin="miter" stroke-miterlimit="4"/>
<line x1="667.40" y1="899.94" x2="677.40" y2="909.64" stroke="#ff0a0a" stroke-width="2.85" fill="none" stroke-linejoin="miter" stroke-miterlimit="4"/><line x1="667.40" y1="909.64" x2="677.40" y2="899.94" stroke="#ff0a0a" stroke-width="2.85" fill="none" stroke-linejoin="miter" stroke-miterlimit="4"/>
<polyline points="75.00,669.79 149.68,785.83 224.35,839.55 299.02,870.08 373.70,883.76 448.38,888.45 523.05,890.73 597.73,890.73 672.40,890.47" fill="none" stroke="#19ebc8" stroke-width="2.85" stroke-linejoin="round" clip-path="url(#clip2)"/>
<ellipse cx="75.00" cy="669.79" rx="7.25" ry="7.1" stroke="#19ebc8" stroke-width="2.85" fill="none" stroke-linejoin="miter" stroke-miterlimit="4"/>
<ellipse cx="149.68" cy="785.83" rx="7.25" ry="7.1" stroke="#19ebc8" stroke-width="2.85" fill="none" stroke-linejoin="miter" stroke-miterlimit="4"/>
<ellipse cx="224.35" cy="839.55" rx="7.25" ry="7.1" stroke="#19ebc8" stroke-width="2.85" fill="none" stroke-linejoin="miter" stroke-miterlimit="4"/>
<ellipse cx="299.02" cy="870.08" rx="7.25" ry="7.1" stroke="#19ebc8" stroke-width="2.85" fill="none" stroke-linejoin="miter" stroke-miterlimit="4"/>
<ellipse cx="373.70" cy="883.76" rx="7.25" ry="7.1" stroke="#19ebc8" stroke-width="2.85" fill="none" stroke-linejoin="miter" stroke-miterlimit="4"/>
<ellipse cx="448.38" cy="888.45" rx="7.25" ry="7.1" stroke="#19ebc8" stroke-width="2.85" fill="none" stroke-linejoin="miter" stroke-miterlimit="4"/>
<ellipse cx="523.05" cy="890.73" rx="7.25" ry="7.1" stroke="#19ebc8" stroke-width="2.85" fill="none" stroke-linejoin="miter" stroke-miterlimit="4"/>
<ellipse cx="597.73" cy="890.73" rx="7.25" ry="7.1" stroke="#19ebc8" stroke-width="2.85" fill="none" stroke-linejoin="miter" stroke-miterlimit="4"/>
<ellipse cx="672.40" cy="890.47" rx="7.25" ry="7.1" stroke="#19ebc8" stroke-width="2.85" fill="none" stroke-linejoin="miter" stroke-miterlimit="4"/>
<polyline points="75.00,656.36 149.68,771.14 224.35,825.86 299.02,857.03 373.70,872.61 448.38,879.20 523.05,879.07 597.73,879.07 672.40,879.07" fill="none" stroke="#ffe614" stroke-width="2.85" stroke-linejoin="round" clip-path="url(#clip2)"/>
<line x1="67.50" y1="656.36" x2="82.50" y2="656.36" stroke="#ffe614" stroke-width="2.85" fill="none" stroke-linejoin="miter" stroke-miterlimit="4"/><line x1="75.00" y1="649.01" x2="75.00" y2="663.71" stroke="#ffe614" stroke-width="2.85" fill="none" stroke-linejoin="miter" stroke-miterlimit="4"/>
<line x1="142.18" y1="771.14" x2="157.18" y2="771.14" stroke="#ffe614" stroke-width="2.85" fill="none" stroke-linejoin="miter" stroke-miterlimit="4"/><line x1="149.68" y1="763.79" x2="149.68" y2="778.49" stroke="#ffe614" stroke-width="2.85" fill="none" stroke-linejoin="miter" stroke-miterlimit="4"/>
<line x1="216.85" y1="825.86" x2="231.85" y2="825.86" stroke="#ffe614" stroke-width="2.85" fill="none" stroke-linejoin="miter" stroke-miterlimit="4"/><line x1="224.35" y1="818.51" x2="224.35" y2="833.21" stroke="#ffe614" stroke-width="2.85" fill="none" stroke-linejoin="miter" stroke-miterlimit="4"/>
<line x1="291.52" y1="857.03" x2="306.52" y2="857.03" stroke="#ffe614" stroke-width="2.85" fill="none" stroke-linejoin="miter" stroke-miterlimit="4"/><line x1="299.02" y1="849.68" x2="299.02" y2="864.38" stroke="#ffe614" stroke-width="2.85" fill="none" stroke-linejoin="miter" stroke-miterlimit="4"/>
<line x1="366.20" y1="872.61" x2="381.20" y2="872.61" stroke="#ffe614" stroke-width="2.85" fill="none" stroke-linejoin="miter" stroke-miterlimit="4"/><line x1="373.70" y1="865.26" x2="373.70" y2="879.96" stroke="#ffe614" stroke-width="2.85" fill="none" stroke-linejoin="miter" stroke-miterlimit="4"/>
<line x1="440.88" y1="879.20" x2="455.88" y2="879.20" stroke="#ffe614" stroke-width="2.85" fill="none" stroke-linejoin="miter" stroke-miterlimit="4"/><line x1="448.38" y1="871.85" x2="448.38" y2="886.55" stroke="#ffe614" stroke-width="2.85" fill="none" stroke-linejoin="miter" stroke-miterlimit="4"/>
<line x1="515.55" y1="879.07" x2="530.55" y2="879.07" stroke="#ffe614" stroke-width="2.85" fill="none" stroke-linejoin="miter" stroke-miterlimit="4"/><line x1="523.05" y1="871.72" x2="523.05" y2="886.42" stroke="#ffe614" stroke-width="2.85" fill="none" stroke-linejoin="miter" stroke-miterlimit="4"/>
<line x1="590.23" y1="879.07" x2="605.23" y2="879.07" stroke="#ffe614" stroke-width="2.85" fill="none" stroke-linejoin="miter" stroke-miterlimit="4"/><line x1="597.73" y1="871.72" x2="597.73" y2="886.42" stroke="#ffe614" stroke-width="2.85" fill="none" stroke-linejoin="miter" stroke-miterlimit="4"/>
<line x1="664.90" y1="879.07" x2="679.90" y2="879.07" stroke="#ffe614" stroke-width="2.85" fill="none" stroke-linejoin="miter" stroke-miterlimit="4"/><line x1="672.40" y1="871.72" x2="672.40" y2="886.42" stroke="#ffe614" stroke-width="2.85" fill="none" stroke-linejoin="miter" stroke-miterlimit="4"/>
<rect x="395.6" y="629.2" width="272.79999999999995" height="236.8" fill="#fff" stroke="#262626" stroke-width="1.9"/>
<line x1="400.7" y1="640.85" x2="455.1" y2="640.85" stroke="#ff14a8" stroke-width="2.85"/>
<polygon points="428.00,633.90 430.17,637.38 434.50,637.38 432.33,640.85 434.50,644.33 430.17,644.33 428.00,647.80 425.83,644.33 421.50,644.33 423.67,640.85 421.50,637.38 425.83,637.38" stroke="#ff14a8" stroke-width="2.85" fill="none" stroke-linejoin="miter" stroke-miterlimit="4"/>
<text transform="translate(459.40,644.45) scale(1.1399,1)" font-size="15.4" stroke="#000" stroke-width="0.28">Proposed</text>
<text transform="translate(531.90,644.45) scale(1.1055,1)" font-size="15.4" stroke="#000" stroke-width="0.28">CBLSTM</text>
<text transform="translate(606.30,644.45) scale(1.1901,1)" font-size="15.4" stroke="#000" stroke-width="0.28">(CP</text>
<text transform="translate(640.80,644.45) scale(1.0409,1)" font-size="15.4" stroke="#000" stroke-width="0.28">16)</text>
<line x1="400.7" y1="660.22" x2="455.1" y2="660.22" stroke="#7e2f8e" stroke-width="2.85"/>
<polygon points="428.00,653.12 429.67,658.03 435.09,658.03 430.71,661.06 432.38,665.96 428.00,662.93 423.62,665.96 425.29,661.06 420.91,658.03 426.33,658.03" stroke="#7e2f8e" stroke-width="2.85" fill="none" stroke-linejoin="miter" stroke-miterlimit="4"/>
<text transform="translate(459.40,663.82) scale(1.1062,1)" font-size="15.4" stroke="#000" stroke-width="0.28">BiLSTM</text>
<text transform="translate(527.20,663.82) scale(1.1901,1)" font-size="15.4" stroke="#000" stroke-width="0.28">(CP</text>
<text transform="translate(561.70,663.82) scale(1.0409,1)" font-size="15.4" stroke="#000" stroke-width="0.28">16)</text>
<line x1="400.7" y1="679.59" x2="455.1" y2="679.59" stroke="#77ac30" stroke-width="2.85"/>
<polygon points="418.40,679.59 432.60,687.59 432.60,671.59" stroke="#77ac30" stroke-width="2.85" fill="none" stroke-linejoin="miter" stroke-miterlimit="4"/>
<text transform="translate(459.90,683.19) scale(1.0941,1)" font-size="15.4" stroke="#000" stroke-width="0.28">CNN-LSTM</text>
<text transform="translate(552.60,683.19) scale(1.1901,1)" font-size="15.4" stroke="#000" stroke-width="0.28">(CP</text>
<text transform="translate(587.10,683.19) scale(1.0409,1)" font-size="15.4" stroke="#000" stroke-width="0.28">16)</text>
<line x1="400.7" y1="698.96" x2="455.1" y2="698.96" stroke="#a2142f" stroke-width="2.85"/>
<polygon points="437.60,698.96 423.40,706.96 423.40,690.96" stroke="#a2142f" stroke-width="2.85" fill="none" stroke-linejoin="miter" stroke-miterlimit="4"/>
<text transform="translate(459.90,702.56) scale(1.0771,1)" font-size="15.4" stroke="#000" stroke-width="0.28">CNN</text>
<text transform="translate(501.50,702.56) scale(1.1901,1)" font-size="15.4" stroke="#000" stroke-width="0.28">(CP</text>
<text transform="translate(536.00,702.56) scale(1.0409,1)" font-size="15.4" stroke="#000" stroke-width="0.28">16)</text>
<line x1="400.7" y1="718.33" x2="455.1" y2="718.33" stroke="#0072bd" stroke-width="2.85"/>
<polygon points="428.00,708.93 436.50,722.83 419.50,722.83" stroke="#0072bd" stroke-width="2.85" fill="none" stroke-linejoin="miter" stroke-miterlimit="4"/>
<text transform="translate(459.40,721.93) scale(1.0940,1)" font-size="15.4" stroke="#000" stroke-width="0.28">LSTM</text>
<text transform="translate(511.20,721.93) scale(1.1901,1)" font-size="15.4" stroke="#000" stroke-width="0.28">(CP</text>
<text transform="translate(545.70,721.93) scale(1.0409,1)" font-size="15.4" stroke="#000" stroke-width="0.28">16)</text>
<line x1="400.7" y1="737.70" x2="455.1" y2="737.70" stroke="#edb120" stroke-width="2.85"/>
<polygon points="428.00,747.10 436.50,733.20 419.50,733.20" stroke="#edb120" stroke-width="2.85" fill="none" stroke-linejoin="miter" stroke-miterlimit="4"/>
<text transform="translate(459.40,741.30) scale(1.0804,1)" font-size="15.4" stroke="#000" stroke-width="0.28">MMSE</text>
<text transform="translate(515.30,741.30) scale(1.1901,1)" font-size="15.4" stroke="#000" stroke-width="0.28">(CP</text>
<text transform="translate(549.80,741.30) scale(1.0409,1)" font-size="15.4" stroke="#000" stroke-width="0.28">16)</text>
<line x1="400.7" y1="757.07" x2="455.1" y2="757.07" stroke="#ffa0d7" stroke-width="2.85"/>
<line x1="420.50" y1="757.07" x2="435.50" y2="757.07" stroke="#ffa0d7" stroke-width="2.85" fill="none" stroke-linejoin="miter" stroke-miterlimit="4"/><line x1="428.00" y1="749.72" x2="428.00" y2="764.42" stroke="#ffa0d7" stroke-width="2.85" fill="none" stroke-linejoin="miter" stroke-miterlimit="4"/><line x1="423.00" y1="752.22" x2="433.00" y2="761.92" stroke="#ffa0d7" stroke-width="2.85" fill="none" stroke-linejoin="miter" stroke-miterlimit="4"/><line x1="423.00" y1="761.92" x2="433.00" y2="752.22" stroke="#ffa0d7" stroke-width="2.85" fill="none" stroke-linejoin="miter" stroke-miterlimit="4"/>
<text transform="translate(459.40,760.67) scale(1.1399,1)" font-size="15.4" stroke="#000" stroke-width="0.28">Proposed</text>
<text transform="translate(531.90,760.67) scale(1.1055,1)" font-size="15.4" stroke="#000" stroke-width="0.28">CBLSTM</text>
<text transform="translate(606.30,760.67) scale(1.1901,1)" font-size="15.4" stroke="#000" stroke-width="0.28">(CP</text>
<text transform="translate(640.80,760.67) scale(0.9876,1)" font-size="15.4" stroke="#000" stroke-width="0.28">8)</text>
<line x1="400.7" y1="776.44" x2="455.1" y2="776.44" stroke="#c800fa" stroke-width="2.85"/>
<polygon points="422.35,770.99 433.65,770.99 433.65,781.89 422.35,781.89" stroke="#c800fa" stroke-width="2.85" fill="none" stroke-linejoin="miter" stroke-miterlimit="4"/>
<text transform="translate(459.40,780.04) scale(1.1062,1)" font-size="15.4" stroke="#000" stroke-width="0.28">BiLSTM</text>
<text transform="translate(527.20,780.04) scale(1.1901,1)" font-size="15.4" stroke="#000" stroke-width="0.28">(CP</text>
<text transform="translate(561.70,780.04) scale(0.9876,1)" font-size="15.4" stroke="#000" stroke-width="0.28">8)</text>
<line x1="400.7" y1="795.81" x2="455.1" y2="795.81" stroke="#82fa0a" stroke-width="2.85"/>
<polygon points="428.00,786.51 435.20,795.81 428.00,805.11 420.80,795.81" stroke="#82fa0a" stroke-width="2.85" fill="none" stroke-linejoin="miter" stroke-miterlimit="4"/>
<text transform="translate(459.90,799.41) scale(1.0941,1)" font-size="15.4" stroke="#000" stroke-width="0.28">CNN-LSTM</text>
<text transform="translate(552.60,799.41) scale(1.1901,1)" font-size="15.4" stroke="#000" stroke-width="0.28">(CP</text>
<text transform="translate(587.10,799.41) scale(0.9876,1)" font-size="15.4" stroke="#000" stroke-width="0.28">8)</text>
<line x1="400.7" y1="815.18" x2="455.1" y2="815.18" stroke="#ff0a0a" stroke-width="2.85"/>
<line x1="423.00" y1="810.33" x2="433.00" y2="820.03" stroke="#ff0a0a" stroke-width="2.85" fill="none" stroke-linejoin="miter" stroke-miterlimit="4"/><line x1="423.00" y1="820.03" x2="433.00" y2="810.33" stroke="#ff0a0a" stroke-width="2.85" fill="none" stroke-linejoin="miter" stroke-miterlimit="4"/>
<text transform="translate(459.90,818.78) scale(1.0771,1)" font-size="15.4" stroke="#000" stroke-width="0.28">CNN</text>
<text transform="translate(501.50,818.78) scale(1.1901,1)" font-size="15.4" stroke="#000" stroke-width="0.28">(CP</text>
<text transform="translate(536.00,818.78) scale(0.9876,1)" font-size="15.4" stroke="#000" stroke-width="0.28">8)</text>
<line x1="400.7" y1="834.55" x2="455.1" y2="834.55" stroke="#19ebc8" stroke-width="2.85"/>
<ellipse cx="428.00" cy="834.55" rx="7.25" ry="7.1" stroke="#19ebc8" stroke-width="2.85" fill="none" stroke-linejoin="miter" stroke-miterlimit="4"/>
<text transform="translate(459.40,838.15) scale(1.0940,1)" font-size="15.4" stroke="#000" stroke-width="0.28">LSTM</text>
<text transform="translate(511.20,838.15) scale(1.1901,1)" font-size="15.4" stroke="#000" stroke-width="0.28">(CP</text>
<text transform="translate(545.70,838.15) scale(0.9876,1)" font-size="15.4" stroke="#000" stroke-width="0.28">8)</text>
<line x1="400.7" y1="853.92" x2="455.1" y2="853.92" stroke="#ffe614" stroke-width="2.85"/>
<line x1="420.50" y1="853.92" x2="435.50" y2="853.92" stroke="#ffe614" stroke-width="2.85" fill="none" stroke-linejoin="miter" stroke-miterlimit="4"/><line x1="428.00" y1="846.57" x2="428.00" y2="861.27" stroke="#ffe614" stroke-width="2.85" fill="none" stroke-linejoin="miter" stroke-miterlimit="4"/>
<text transform="translate(459.40,857.52) scale(1.0804,1)" font-size="15.4" stroke="#000" stroke-width="0.28">MMSE</text>
<text transform="translate(515.30,857.52) scale(1.1901,1)" font-size="15.4" stroke="#000" stroke-width="0.28">(CP</text>
<text transform="translate(549.80,857.52) scale(0.9876,1)" font-size="15.4" stroke="#000" stroke-width="0.28">8)</text>
<text transform="translate(326.30,1118.90) scale(1.0782,1)" font-size="20.5" stroke="#000" stroke-width="0.3">SNR</text>
<text transform="translate(378.80,1118.90) scale(1.1059,1)" font-size="20.5" stroke="#000" stroke-width="0.3">(dB)</text>
<g transform="translate(16.0,870.8) rotate(-90)"><text transform="translate(0.00,0.00) scale(0.9261,1)" font-size="23.2" stroke="#000" stroke-width="0.3">MAE</text></g>
<text transform="translate(31.40,552.40) scale(1.1070,1)" font-size="29" font-weight="bold" stroke="#000" stroke-width="0.15">(a)</text>
<text transform="translate(83.40,552.40) scale(1.0387,1)" font-size="29" stroke="#000" stroke-width="0.45">MSE</text>
<text transform="translate(156.40,552.40) scale(0.9710,1)" font-size="29" stroke="#000" stroke-width="0.45">vs.</text>
<text transform="translate(201.70,552.40) scale(1.0469,1)" font-size="29" stroke="#000" stroke-width="0.45">SNR</text>
<text transform="translate(272.60,552.40) scale(1.0577,1)" font-size="29" stroke="#000" stroke-width="0.45">with</text>
<text transform="translate(340.40,552.40) scale(1.0274,1)" font-size="29" stroke="#000" stroke-width="0.45">CP</text>
<text transform="translate(389.90,553.70) scale(1.2817,1)" font-size="29" stroke="#000" stroke-width="0.45">=</text>
<text transform="translate(424.00,552.40) scale(0.8759,1)" font-size="29" stroke="#000" stroke-width="0.45">16</text>
<text transform="translate(462.00,552.40) scale(1.0786,1)" font-size="29" stroke="#000" stroke-width="0.45">and</text>
<text transform="translate(520.20,552.40) scale(1.0415,1)" font-size="29" stroke="#000" stroke-width="0.45">CP</text>
<text transform="translate(571.10,553.70) scale(1.2084,1)" font-size="29" stroke="#000" stroke-width="0.45">=</text>
<text transform="translate(603.20,552.40) scale(0.9103,1)" font-size="29" stroke="#000" stroke-width="0.45">8</text>
<text transform="translate(26.70,1170.70) scale(1.1560,1)" font-size="29" font-weight="bold" stroke="#000" stroke-width="0.15">(b)</text>
<text transform="translate(82.20,1170.70) scale(1.0422,1)" font-size="29" stroke="#000" stroke-width="0.45">MAE</text>
<text transform="translate(161.00,1170.70) scale(0.9891,1)" font-size="29" stroke="#000" stroke-width="0.45">vs.</text>
<text transform="translate(206.10,1170.70) scale(1.0433,1)" font-size="29" stroke="#000" stroke-width="0.45">SNR</text>
<text transform="translate(276.80,1170.70) scale(1.0558,1)" font-size="29" stroke="#000" stroke-width="0.45">with</text>
<text transform="translate(344.40,1170.70) scale(1.0415,1)" font-size="29" stroke="#000" stroke-width="0.45">CP</text>
<text transform="translate(394.40,1172.00) scale(1.2817,1)" font-size="29" stroke="#000" stroke-width="0.45">=</text>
<text transform="translate(428.50,1170.70) scale(0.8759,1)" font-size="29" stroke="#000" stroke-width="0.45">16</text>
<text transform="translate(466.50,1170.70) scale(1.0786,1)" font-size="29" stroke="#000" stroke-width="0.45">and</text>
<text transform="translate(524.20,1170.70) scale(1.0556,1)" font-size="29" stroke="#000" stroke-width="0.45">CP</text>
<text transform="translate(575.20,1172.00) scale(1.2267,1)" font-size="29" stroke="#000" stroke-width="0.45">=</text>
<text transform="translate(607.40,1170.70) scale(0.9241,1)" font-size="29" stroke="#000" stroke-width="0.45">8</text>
</svg></body></html>
